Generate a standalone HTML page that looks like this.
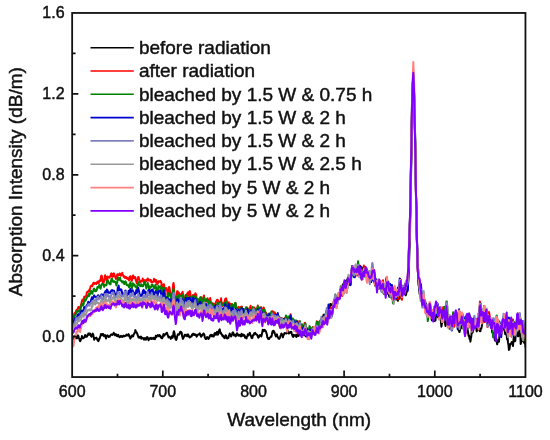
<!DOCTYPE html>
<html lang="en"><head><meta charset="utf-8"><title>Absorption spectrum</title>
<style>html,body{margin:0;padding:0;background:#fff}body{width:550px;height:440px;overflow:hidden}svg{display:block;filter:blur(0.45px)}text{font-family:"Liberation Sans",Arial,sans-serif;fill:#111111;stroke:#111111;stroke-width:0.45px}</style></head><body>
<svg width="550" height="440" viewBox="0 0 550 440">
<rect width="550" height="440" fill="#fff"/>
<defs><clipPath id="c"><rect x="72.15" y="12.95" width="453.30" height="364.11"/></clipPath></defs>
<g clip-path="url(#c)" fill="none" stroke-width="2" stroke-linejoin="round">
<path stroke="#000000" d="M72.2 336.5 L72.4 337.5 L72.9 339.3 L73.3 338.2 L73.8 336.7 L74.2 336.4 L74.7 335.8 L75.1 337.1 L75.6 336.7 L76.0 338.3 L76.5 337.2 L77.0 338.3 L77.4 336.2 L77.9 335.4 L78.3 335.8 L78.8 337.6 L79.2 338.5 L79.7 340.1 L80.1 341.3 L80.6 340.4 L81.0 338.8 L81.5 338.7 L81.9 336.0 L82.4 338.1 L82.8 338.3 L83.3 338.3 L83.8 337.4 L84.2 337.7 L84.7 336.0 L85.1 335.0 L85.6 335.9 L86.0 336.7 L86.5 335.9 L86.9 336.7 L87.4 335.5 L87.8 335.3 L88.3 333.5 L88.7 334.6 L89.2 333.5 L89.6 334.6 L90.1 333.6 L90.6 334.3 L91.0 335.9 L91.5 336.6 L91.9 335.8 L92.4 334.8 L92.8 333.6 L93.3 335.1 L93.7 337.4 L94.2 339.7 L94.6 338.0 L95.1 338.6 L95.5 338.1 L96.0 338.0 L96.4 337.6 L96.9 338.6 L97.4 340.0 L97.8 340.5 L98.3 341.2 L98.7 340.7 L99.2 338.6 L99.6 338.7 L100.1 336.9 L100.5 335.8 L101.0 334.0 L101.4 335.1 L101.9 335.3 L102.3 334.1 L102.8 334.6 L103.2 334.1 L103.7 335.8 L104.2 336.3 L104.6 335.4 L105.1 335.1 L105.5 335.7 L106.0 338.5 L106.4 336.9 L106.9 336.1 L107.3 335.4 L107.8 335.7 L108.2 336.1 L108.7 336.9 L109.1 336.3 L109.6 336.8 L110.0 336.0 L110.5 335.3 L111.0 334.5 L111.4 334.8 L111.9 334.4 L112.3 335.0 L112.8 334.3 L113.2 334.2 L113.7 332.8 L114.1 333.6 L114.6 334.6 L115.0 335.3 L115.5 334.4 L115.9 334.1 L116.4 335.3 L116.8 335.9 L117.3 335.3 L117.8 336.3 L118.2 334.8 L118.7 336.2 L119.1 336.2 L119.6 337.2 L120.0 336.8 L120.5 336.4 L120.9 335.8 L121.4 336.8 L121.8 336.2 L122.3 336.9 L122.7 336.6 L123.2 335.7 L123.6 335.6 L124.1 336.3 L124.6 336.0 L125.0 336.2 L125.5 335.5 L125.9 335.7 L126.4 334.6 L126.8 334.9 L127.3 335.1 L127.7 334.9 L128.2 335.7 L128.6 334.1 L129.1 335.1 L129.5 336.2 L130.0 337.6 L130.4 338.6 L130.9 337.4 L131.4 336.5 L131.8 335.5 L132.3 335.6 L132.7 336.5 L133.2 336.1 L133.6 334.8 L134.1 333.7 L134.5 333.4 L135.0 331.7 L135.4 330.1 L135.9 332.0 L136.3 332.0 L136.8 332.7 L137.2 333.6 L137.7 335.1 L138.2 336.5 L138.6 337.6 L139.1 337.6 L139.5 337.7 L140.0 336.8 L140.4 337.4 L140.9 336.5 L141.3 338.7 L141.8 338.1 L142.2 337.7 L142.7 338.0 L143.1 338.0 L143.6 339.4 L144.0 339.4 L144.5 339.5 L144.9 338.0 L145.4 339.1 L145.9 339.7 L146.3 338.7 L146.8 337.2 L147.2 337.1 L147.7 337.5 L148.1 339.2 L148.6 340.3 L149.0 338.8 L149.5 338.8 L149.9 338.1 L150.4 338.8 L150.8 337.8 L151.3 338.3 L151.7 339.0 L152.2 338.8 L152.7 338.0 L153.1 338.0 L153.6 337.8 L154.0 339.1 L154.5 338.6 L154.9 339.1 L155.4 337.7 L155.8 335.7 L156.3 337.3 L156.7 336.3 L157.2 335.9 L157.6 335.1 L158.1 335.4 L158.5 335.7 L159.0 336.3 L159.5 335.0 L159.9 336.0 L160.4 335.8 L160.8 337.6 L161.3 336.8 L161.7 338.3 L162.2 338.2 L162.6 337.4 L163.1 335.6 L163.5 334.1 L164.0 334.7 L164.4 335.6 L164.9 334.6 L165.3 334.1 L165.8 333.8 L166.3 333.3 L166.7 332.7 L167.2 333.4 L167.6 334.9 L168.1 336.1 L168.5 337.6 L169.0 336.6 L169.4 336.9 L169.9 337.1 L170.3 337.7 L170.8 338.9 L171.2 337.9 L171.7 336.3 L172.1 337.2 L172.6 337.7 L173.1 336.4 L173.5 332.6 L174.0 331.2 L174.4 332.7 L174.9 335.9 L175.3 338.7 L175.8 339.3 L176.2 339.9 L176.7 338.9 L177.1 336.5 L177.6 335.2 L178.0 334.2 L178.5 334.7 L178.9 334.6 L179.4 334.3 L179.9 332.5 L180.3 331.7 L180.8 332.8 L181.2 332.1 L181.7 332.8 L182.1 335.9 L182.6 337.7 L183.0 338.9 L183.5 337.7 L183.9 337.0 L184.4 335.2 L184.8 334.9 L185.3 335.8 L185.7 335.0 L186.2 334.8 L186.7 335.3 L187.1 336.3 L187.6 335.0 L188.0 334.4 L188.5 335.3 L188.9 336.5 L189.4 337.1 L189.8 337.5 L190.3 336.5 L190.7 336.5 L191.2 336.4 L191.6 336.5 L192.1 334.4 L192.5 335.2 L193.0 333.8 L193.5 334.7 L193.9 333.9 L194.4 335.0 L194.8 335.1 L195.3 334.5 L195.7 334.5 L196.2 335.6 L196.6 336.8 L197.1 336.0 L197.5 335.0 L198.0 334.8 L198.4 334.5 L198.9 334.4 L199.3 333.8 L199.8 333.4 L200.3 335.0 L200.7 336.0 L201.2 336.8 L201.6 335.2 L202.1 335.6 L202.5 334.5 L203.0 334.4 L203.4 333.5 L203.9 334.0 L204.3 334.4 L204.8 337.6 L205.2 337.8 L205.7 339.0 L206.1 339.0 L206.6 338.1 L207.1 337.0 L207.5 337.5 L208.0 337.5 L208.4 339.1 L208.9 338.2 L209.3 337.9 L209.8 336.1 L210.2 335.3 L210.7 335.8 L211.1 334.8 L211.6 336.2 L212.0 335.0 L212.5 335.5 L212.9 336.3 L213.4 336.6 L213.9 336.2 L214.3 333.9 L214.8 333.2 L215.2 333.0 L215.7 334.8 L216.1 334.7 L216.6 333.0 L217.0 331.7 L217.5 332.3 L217.9 334.7 L218.4 333.5 L218.8 331.7 L219.3 329.8 L219.7 329.3 L220.2 331.9 L220.7 333.4 L221.1 333.0 L221.6 334.5 L222.0 334.7 L222.5 336.1 L222.9 335.4 L223.4 336.3 L223.8 337.1 L224.3 337.9 L224.7 338.2 L225.2 336.4 L225.6 335.3 L226.1 335.8 L226.5 337.1 L227.0 338.5 L227.5 338.5 L227.9 338.0 L228.4 338.0 L228.8 335.9 L229.3 335.0 L229.7 333.4 L230.2 335.4 L230.6 335.7 L231.1 336.5 L231.5 335.6 L232.0 334.4 L232.4 332.9 L232.9 332.3 L233.3 332.9 L233.8 335.4 L234.3 335.2 L234.7 334.6 L235.2 334.9 L235.6 336.4 L236.1 335.6 L236.5 334.4 L237.0 333.2 L237.4 333.7 L237.9 334.5 L238.3 335.6 L238.8 335.7 L239.2 335.5 L239.7 334.8 L240.1 335.8 L240.6 336.3 L241.0 336.4 L241.5 333.7 L242.0 335.7 L242.4 334.4 L242.9 335.6 L243.3 334.6 L243.8 335.6 L244.2 335.0 L244.7 335.7 L245.1 337.8 L245.6 337.4 L246.0 337.3 L246.5 338.4 L246.9 336.8 L247.4 336.2 L247.8 334.2 L248.3 335.6 L248.8 334.4 L249.2 334.3 L249.7 332.7 L250.1 333.5 L250.6 335.4 L251.0 336.1 L251.5 337.7 L251.9 338.1 L252.4 337.8 L252.8 335.6 L253.3 334.9 L253.7 335.1 L254.2 333.3 L254.6 333.4 L255.1 332.8 L255.6 333.6 L256.0 334.3 L256.5 334.5 L256.9 334.7 L257.4 335.3 L257.8 336.3 L258.3 337.7 L258.7 337.1 L259.2 336.8 L259.6 335.4 L260.1 335.0 L260.5 335.2 L261.0 335.8 L261.4 336.4 L261.9 334.1 L262.4 331.5 L262.8 329.8 L263.3 330.3 L263.7 331.2 L264.2 331.0 L264.6 329.9 L265.1 330.3 L265.5 330.8 L266.0 331.6 L266.4 333.2 L266.9 334.5 L267.3 337.3 L267.8 337.9 L268.2 339.0 L268.7 338.8 L269.2 338.9 L269.6 337.7 L270.1 337.5 L270.5 337.1 L271.0 336.3 L271.4 336.7 L271.9 334.7 L272.3 332.1 L272.8 330.9 L273.2 331.0 L273.7 330.7 L274.1 332.7 L274.6 332.4 L275.0 334.0 L275.5 335.6 L276.0 336.5 L276.4 335.1 L276.9 334.3 L277.3 336.0 L277.8 337.0 L278.2 337.7 L278.7 338.7 L279.1 338.9 L279.6 338.3 L280.0 337.3 L280.5 335.7 L280.9 335.3 L281.4 333.5 L281.8 334.9 L282.3 334.4 L282.8 337.3 L283.2 336.2 L283.7 335.0 L284.1 334.1 L284.6 333.0 L285.0 333.3 L285.5 333.3 L285.9 333.3 L286.4 333.4 L286.8 332.7 L287.3 332.4 L287.7 330.9 L288.2 331.5 L288.6 333.6 L289.1 333.3 L289.6 332.9 L290.0 332.6 L290.5 331.8 L290.9 332.2 L291.4 331.9 L291.8 333.7 L292.3 335.5 L292.7 336.3 L293.2 337.0 L293.6 334.8 L294.1 335.7 L294.5 335.8 L295.0 335.2 L295.4 335.1 L295.9 336.0 L296.4 336.9 L296.8 336.5 L297.3 333.2 L297.7 334.9 L298.2 333.6 L298.6 335.9 L299.1 334.3 L299.5 332.3 L300.0 333.0 L300.4 332.0 L300.9 332.1 L301.3 330.4 L301.8 330.5 L302.2 331.7 L302.7 332.2 L303.2 332.0 L303.6 333.1 L304.1 334.5 L304.5 335.1 L305.0 335.3 L305.4 335.9 L305.9 335.7 L306.3 336.4 L306.8 335.6 L307.2 334.4 L307.7 332.5 L308.1 334.5 L308.6 334.8 L309.0 335.0 L309.5 334.5 L310.0 334.9 L310.4 333.5 L310.9 331.3 L311.3 330.9 L311.8 331.1 L312.2 332.7 L312.7 331.5 L313.1 330.9 L313.6 331.9 L314.0 331.3 L314.5 330.6 L314.9 328.9 L315.4 329.7 L315.8 329.8 L316.3 329.6 L316.8 327.6 L317.2 327.7 L317.7 326.4 L318.1 328.1 L318.6 326.7 L319.0 325.7 L319.5 325.7 L319.9 326.0 L320.4 325.0 L320.8 323.8 L321.3 322.1 L321.7 321.0 L322.2 320.6 L322.6 318.4 L323.1 316.6 L323.6 314.8 L324.0 314.7 L324.5 315.3 L324.9 315.3 L325.4 316.1 L325.8 313.6 L326.3 312.4 L326.7 312.3 L327.2 311.7 L327.6 311.6 L328.1 309.8 L328.5 307.9 L329.0 308.4 L329.4 309.1 L329.9 307.3 L330.3 303.9 L330.8 304.1 L331.3 304.4 L331.7 304.5 L332.2 305.5 L332.6 305.7 L333.1 304.7 L333.5 304.4 L334.0 302.8 L334.4 300.8 L334.9 300.5 L335.3 300.0 L335.8 297.8 L336.2 296.8 L336.7 296.7 L337.1 296.5 L337.6 296.0 L338.1 294.9 L338.5 294.0 L339.0 293.4 L339.4 293.6 L339.9 291.6 L340.3 290.6 L340.8 289.4 L341.2 289.4 L341.7 287.9 L342.1 286.3 L342.6 285.0 L343.0 285.0 L343.5 283.6 L343.9 283.6 L344.4 282.8 L344.9 282.2 L345.3 281.7 L345.8 280.7 L346.2 281.1 L346.7 280.4 L347.1 279.9 L347.6 279.1 L348.0 277.2 L348.5 278.4 L348.9 278.9 L349.4 279.8 L349.8 278.6 L350.3 277.1 L350.7 276.6 L351.2 275.2 L351.7 274.6 L352.1 274.4 L352.6 275.0 L353.0 273.9 L353.5 272.8 L353.9 270.6 L354.4 269.5 L354.8 269.1 L355.3 271.1 L355.7 271.4 L356.2 270.8 L356.6 271.2 L357.1 269.8 L357.5 268.4 L358.0 269.2 L358.5 268.9 L358.9 268.8 L359.4 270.9 L359.8 271.1 L360.3 271.4 L360.7 269.5 L361.2 268.4 L361.6 267.1 L362.1 269.6 L362.5 270.0 L363.0 270.2 L363.4 269.7 L363.9 267.0 L364.3 267.3 L364.8 267.6 L365.3 268.9 L365.7 268.5 L366.2 270.6 L366.6 272.8 L367.1 273.5 L367.5 274.1 L368.0 275.7 L368.4 275.2 L368.9 277.1 L369.3 275.3 L369.8 274.4 L370.2 274.7 L370.7 274.5 L371.1 276.5 L371.6 276.8 L372.1 278.3 L372.5 277.2 L373.0 277.3 L373.4 279.2 L373.9 280.3 L374.3 281.7 L374.8 283.7 L375.2 285.7 L375.7 285.1 L376.1 285.2 L376.6 284.0 L377.0 283.6 L377.5 285.7 L377.9 286.0 L378.4 288.6 L378.9 286.5 L379.3 284.3 L379.8 283.2 L380.2 283.0 L380.7 285.0 L381.1 285.9 L381.6 288.8 L382.0 288.2 L382.5 289.1 L382.9 290.1 L383.4 289.4 L383.8 292.7 L384.3 292.8 L384.7 291.7 L385.2 290.6 L385.7 291.8 L386.1 292.9 L386.6 292.8 L387.0 293.1 L387.5 293.4 L387.9 292.6 L388.4 294.4 L388.8 294.1 L389.3 296.7 L389.7 295.6 L390.2 294.1 L390.6 295.4 L391.1 295.2 L391.5 297.1 L392.0 297.0 L392.5 298.9 L392.9 297.6 L393.4 300.5 L393.8 298.0 L394.3 298.4 L394.7 298.7 L395.2 298.6 L395.6 298.7 L396.1 299.2 L396.5 298.0 L397.0 296.4 L397.4 299.8 L397.9 300.8 L398.3 297.4 L398.8 297.1 L399.3 297.5 L399.7 298.7 L400.2 295.8 L400.6 294.8 L401.1 290.8 L401.5 294.7 L402.0 293.7 L402.4 294.1 L402.9 290.9 L403.3 293.2 L403.8 292.6 L404.2 290.1 L404.7 290.6 L405.1 291.4 L405.6 295.3 L406.1 294.7 L406.5 291.2 L407.0 287.3 L407.4 284.5 L407.9 284.8 L408.3 281.2 L408.8 272.0 L409.2 258.2 L409.7 243.9 L410.1 225.3 L410.6 201.5 L411.0 178.6 L411.5 151.3 L411.9 122.4 L412.4 101.0 L412.9 82.7 L413.3 76.7 L413.8 82.7 L414.2 95.7 L414.7 113.0 L415.1 138.1 L415.6 167.8 L416.0 195.1 L416.5 217.3 L416.9 238.0 L417.4 254.4 L417.8 266.4 L418.3 276.0 L418.7 284.6 L419.2 288.7 L419.6 293.9 L420.1 293.6 L420.6 295.5 L421.0 293.7 L421.5 294.7 L421.9 296.4 L422.4 299.6 L422.8 301.7 L423.3 300.2 L423.7 301.0 L424.2 305.1 L424.6 307.2 L425.1 309.6 L425.5 310.5 L426.0 312.7 L426.4 312.7 L426.9 313.5 L427.4 311.3 L427.8 314.8 L428.3 314.6 L428.7 315.0 L429.2 314.0 L429.6 312.5 L430.1 312.1 L430.5 311.4 L431.0 316.9 L431.4 318.1 L431.9 320.4 L432.3 318.6 L432.8 318.7 L433.2 318.7 L433.7 319.9 L434.2 317.0 L434.6 321.0 L435.1 320.0 L435.5 320.5 L436.0 314.4 L436.4 314.9 L436.9 312.9 L437.3 316.1 L437.8 316.8 L438.2 317.5 L438.7 316.2 L439.1 316.7 L439.6 314.4 L440.0 314.9 L440.5 316.3 L441.0 322.5 L441.4 326.7 L441.9 323.6 L442.3 322.3 L442.8 320.1 L443.2 321.5 L443.7 321.1 L444.1 319.5 L444.6 321.1 L445.0 322.5 L445.5 325.9 L445.9 323.3 L446.4 322.1 L446.8 319.8 L447.3 318.2 L447.8 321.3 L448.2 320.2 L448.7 323.1 L449.1 321.8 L449.6 324.3 L450.0 324.0 L450.5 321.9 L450.9 321.7 L451.4 321.4 L451.8 321.8 L452.3 318.3 L452.7 315.7 L453.2 317.3 L453.6 318.0 L454.1 318.9 L454.6 318.9 L455.0 315.3 L455.5 317.8 L455.9 318.2 L456.4 321.8 L456.8 318.9 L457.3 324.2 L457.7 324.7 L458.2 326.7 L458.6 330.1 L459.1 331.1 L459.5 332.0 L460.0 330.2 L460.4 328.8 L460.9 325.9 L461.4 325.2 L461.8 327.8 L462.3 323.7 L462.7 324.8 L463.2 326.1 L463.6 329.2 L464.1 329.2 L464.5 324.6 L465.0 323.6 L465.4 324.6 L465.9 330.5 L466.3 330.6 L466.8 332.3 L467.2 330.0 L467.7 330.0 L468.2 332.9 L468.6 335.9 L469.1 335.6 L469.5 338.8 L470.0 337.2 L470.4 341.7 L470.9 338.4 L471.3 336.3 L471.8 330.4 L472.2 332.7 L472.7 332.5 L473.1 329.0 L473.6 323.3 L474.0 325.0 L474.5 324.0 L475.0 325.8 L475.4 325.9 L475.9 326.9 L476.3 329.4 L476.8 331.4 L477.2 327.4 L477.7 326.7 L478.1 327.3 L478.6 330.0 L479.0 328.9 L479.5 330.1 L479.9 331.2 L480.4 331.0 L480.8 328.4 L481.3 328.6 L481.8 326.2 L482.2 323.5 L482.7 320.5 L483.1 317.6 L483.6 321.3 L484.0 320.6 L484.5 319.5 L484.9 318.8 L485.4 318.4 L485.8 318.4 L486.3 315.1 L486.7 317.5 L487.2 314.5 L487.6 319.5 L488.1 316.3 L488.6 319.8 L489.0 315.7 L489.5 319.6 L489.9 318.2 L490.4 322.7 L490.8 322.9 L491.3 324.0 L491.7 326.8 L492.2 332.3 L492.6 331.3 L493.1 335.7 L493.5 334.4 L494.0 336.4 L494.4 336.8 L494.9 340.4 L495.4 338.0 L495.8 334.8 L496.3 338.4 L496.7 341.3 L497.2 344.3 L497.6 341.9 L498.1 340.4 L498.5 340.7 L499.0 341.8 L499.4 335.7 L499.9 333.7 L500.3 332.6 L500.8 332.9 L501.2 333.9 L501.7 332.7 L502.2 330.8 L502.6 329.8 L503.1 326.5 L503.5 325.8 L504.0 323.0 L504.4 326.8 L504.9 332.2 L505.3 334.2 L505.8 327.8 L506.2 327.1 L506.7 335.0 L507.1 339.5 L507.6 337.8 L508.0 342.4 L508.5 345.1 L508.9 349.9 L509.4 349.4 L509.9 346.2 L510.3 343.8 L510.8 343.9 L511.2 343.8 L511.7 342.0 L512.1 343.1 L512.6 344.5 L513.0 346.1 L513.5 339.6 L513.9 336.0 L514.4 336.7 L514.8 341.2 L515.3 341.0 L515.7 335.3 L516.2 334.0 L516.7 331.8 L517.1 332.6 L517.6 333.9 L518.0 336.3 L518.5 336.0 L518.9 334.5 L519.4 328.9 L519.8 329.4 L520.3 334.2 L520.7 344.0 L521.2 342.2 L521.6 338.2 L522.1 339.9 L522.5 341.1 L523.0 339.8 L523.5 336.5 L523.9 341.9 L524.4 343.1 L524.8 341.7 L525.3 342.8 L525.5 347.4"/>
<path stroke="#ff0000" d="M72.2 320.3 L72.4 319.6 L72.9 320.7 L73.3 319.7 L73.8 317.6 L74.2 313.9 L74.7 313.1 L75.1 313.5 L75.6 312.1 L76.0 311.2 L76.5 310.1 L77.0 311.4 L77.4 309.7 L77.9 308.3 L78.3 307.1 L78.8 307.0 L79.2 308.1 L79.7 307.9 L80.1 308.3 L80.6 306.3 L81.0 305.2 L81.5 303.1 L81.9 301.0 L82.4 299.5 L82.8 301.0 L83.3 301.1 L83.8 300.6 L84.2 296.7 L84.7 297.5 L85.1 296.5 L85.6 296.8 L86.0 296.0 L86.5 294.3 L86.9 292.3 L87.4 292.1 L87.8 291.6 L88.3 291.8 L88.7 290.4 L89.2 291.4 L89.6 289.2 L90.1 289.1 L90.6 286.4 L91.0 286.0 L91.5 285.5 L91.9 285.6 L92.4 286.2 L92.8 284.4 L93.3 283.1 L93.7 282.6 L94.2 283.4 L94.6 284.0 L95.1 283.4 L95.5 283.0 L96.0 283.5 L96.4 284.0 L96.9 282.7 L97.4 281.6 L97.8 282.7 L98.3 282.5 L98.7 283.2 L99.2 280.8 L99.6 281.5 L100.1 280.1 L100.5 280.9 L101.0 276.6 L101.4 275.6 L101.9 276.0 L102.3 279.8 L102.8 282.8 L103.2 283.7 L103.7 282.7 L104.2 279.8 L104.6 277.7 L105.1 275.2 L105.5 276.8 L106.0 276.5 L106.4 280.4 L106.9 278.3 L107.3 279.0 L107.8 276.5 L108.2 277.4 L108.7 277.5 L109.1 277.0 L109.6 277.7 L110.0 276.2 L110.5 276.2 L111.0 273.7 L111.4 273.4 L111.9 274.7 L112.3 276.9 L112.8 276.6 L113.2 274.0 L113.7 273.3 L114.1 273.7 L114.6 276.3 L115.0 275.9 L115.5 277.8 L115.9 279.0 L116.4 277.8 L116.8 276.6 L117.3 274.3 L117.8 274.5 L118.2 275.1 L118.7 274.8 L119.1 275.1 L119.6 273.5 L120.0 273.7 L120.5 275.0 L120.9 275.7 L121.4 274.2 L121.8 274.6 L122.3 272.7 L122.7 274.9 L123.2 275.5 L123.6 276.6 L124.1 277.2 L124.6 276.4 L125.0 278.0 L125.5 277.0 L125.9 277.3 L126.4 277.1 L126.8 278.5 L127.3 278.7 L127.7 278.0 L128.2 279.1 L128.6 278.3 L129.1 280.4 L129.5 277.0 L130.0 278.5 L130.4 276.3 L130.9 278.0 L131.4 280.0 L131.8 280.9 L132.3 278.8 L132.7 275.9 L133.2 275.4 L133.6 277.7 L134.1 278.3 L134.5 277.3 L135.0 277.0 L135.4 277.4 L135.9 280.7 L136.3 281.6 L136.8 283.2 L137.2 280.7 L137.7 279.6 L138.2 276.9 L138.6 277.0 L139.1 278.8 L139.5 280.0 L140.0 282.5 L140.4 282.2 L140.9 281.8 L141.3 281.3 L141.8 280.7 L142.2 281.0 L142.7 278.6 L143.1 279.4 L143.6 281.4 L144.0 283.4 L144.5 281.8 L144.9 280.1 L145.4 280.7 L145.9 280.6 L146.3 281.2 L146.8 279.4 L147.2 280.0 L147.7 278.5 L148.1 280.3 L148.6 279.2 L149.0 280.7 L149.5 280.2 L149.9 280.4 L150.4 280.6 L150.8 279.8 L151.3 282.3 L151.7 282.1 L152.2 282.5 L152.7 282.1 L153.1 281.7 L153.6 280.7 L154.0 278.7 L154.5 279.7 L154.9 281.4 L155.4 281.8 L155.8 280.0 L156.3 280.4 L156.7 283.1 L157.2 284.5 L157.6 284.0 L158.1 282.1 L158.5 281.2 L159.0 281.6 L159.5 281.9 L159.9 281.8 L160.4 280.8 L160.8 282.3 L161.3 282.1 L161.7 287.1 L162.2 286.6 L162.6 288.8 L163.1 285.7 L163.5 284.2 L164.0 284.2 L164.4 286.7 L164.9 290.5 L165.3 289.4 L165.8 290.3 L166.3 287.9 L166.7 288.9 L167.2 290.0 L167.6 294.7 L168.1 294.9 L168.5 291.1 L169.0 286.9 L169.4 287.1 L169.9 290.4 L170.3 293.7 L170.8 295.2 L171.2 294.5 L171.7 295.9 L172.1 294.2 L172.6 291.6 L173.1 284.8 L173.5 282.9 L174.0 286.2 L174.4 294.4 L174.9 300.9 L175.3 302.5 L175.8 301.9 L176.2 298.7 L176.7 295.2 L177.1 291.2 L177.6 291.3 L178.0 292.0 L178.5 294.6 L178.9 292.8 L179.4 296.0 L179.9 296.5 L180.3 297.8 L180.8 295.2 L181.2 293.8 L181.7 293.8 L182.1 293.1 L182.6 291.8 L183.0 294.5 L183.5 297.1 L183.9 299.7 L184.4 299.2 L184.8 298.1 L185.3 297.1 L185.7 295.2 L186.2 295.8 L186.7 296.9 L187.1 293.5 L187.6 294.0 L188.0 292.2 L188.5 295.8 L188.9 293.4 L189.4 293.3 L189.8 291.0 L190.3 292.9 L190.7 296.5 L191.2 298.8 L191.6 300.0 L192.1 297.3 L192.5 297.3 L193.0 294.9 L193.5 295.2 L193.9 297.7 L194.4 297.1 L194.8 296.5 L195.3 293.2 L195.7 294.1 L196.2 294.4 L196.6 299.0 L197.1 302.2 L197.5 304.2 L198.0 301.8 L198.4 301.3 L198.9 300.8 L199.3 301.0 L199.8 299.2 L200.3 297.2 L200.7 297.3 L201.2 297.5 L201.6 300.5 L202.1 300.9 L202.5 304.5 L203.0 301.3 L203.4 297.4 L203.9 295.5 L204.3 297.3 L204.8 300.1 L205.2 299.4 L205.7 300.8 L206.1 301.7 L206.6 300.9 L207.1 299.2 L207.5 298.2 L208.0 299.4 L208.4 301.5 L208.9 303.1 L209.3 300.2 L209.8 299.1 L210.2 298.0 L210.7 301.5 L211.1 304.5 L211.6 305.7 L212.0 305.3 L212.5 303.2 L212.9 303.3 L213.4 304.7 L213.9 304.1 L214.3 304.6 L214.8 305.3 L215.2 305.1 L215.7 302.6 L216.1 301.7 L216.6 300.6 L217.0 299.8 L217.5 299.8 L217.9 300.1 L218.4 302.9 L218.8 302.1 L219.3 304.0 L219.7 303.7 L220.2 301.3 L220.7 300.9 L221.1 298.3 L221.6 303.0 L222.0 302.8 L222.5 306.0 L222.9 305.2 L223.4 305.4 L223.8 305.3 L224.3 302.8 L224.7 300.9 L225.2 298.9 L225.6 298.8 L226.1 298.4 L226.5 300.0 L227.0 303.6 L227.5 308.4 L227.9 308.3 L228.4 305.2 L228.8 302.3 L229.3 304.7 L229.7 305.7 L230.2 305.6 L230.6 303.8 L231.1 304.2 L231.5 305.9 L232.0 304.3 L232.4 304.6 L232.9 304.7 L233.3 306.4 L233.8 306.6 L234.3 307.2 L234.7 304.3 L235.2 304.5 L235.6 303.6 L236.1 308.7 L236.5 307.2 L237.0 310.4 L237.4 309.3 L237.9 310.9 L238.3 307.1 L238.8 306.9 L239.2 309.1 L239.7 311.1 L240.1 310.7 L240.6 310.1 L241.0 306.7 L241.5 308.1 L242.0 306.6 L242.4 313.2 L242.9 313.1 L243.3 315.3 L243.8 311.6 L244.2 311.7 L244.7 311.1 L245.1 310.6 L245.6 309.9 L246.0 307.7 L246.5 308.4 L246.9 307.5 L247.4 307.7 L247.8 308.7 L248.3 309.6 L248.8 312.4 L249.2 313.0 L249.7 309.7 L250.1 307.6 L250.6 305.7 L251.0 308.1 L251.5 311.2 L251.9 311.2 L252.4 312.8 L252.8 310.4 L253.3 311.6 L253.7 310.0 L254.2 307.4 L254.6 310.9 L255.1 312.6 L255.6 313.3 L256.0 310.0 L256.5 312.4 L256.9 312.1 L257.4 309.2 L257.8 305.5 L258.3 309.9 L258.7 311.8 L259.2 312.4 L259.6 307.5 L260.1 310.7 L260.5 307.4 L261.0 311.2 L261.4 307.3 L261.9 312.9 L262.4 312.8 L262.8 313.3 L263.3 311.2 L263.7 307.4 L264.2 310.0 L264.6 312.3 L265.1 314.0 L265.5 313.2 L266.0 312.6 L266.4 314.6 L266.9 315.0 L267.3 314.3 L267.8 315.6 L268.2 316.7 L268.7 316.9 L269.2 313.9 L269.6 315.0 L270.1 314.9 L270.5 317.6 L271.0 314.9 L271.4 313.4 L271.9 313.4 L272.3 311.3 L272.8 313.6 L273.2 311.4 L273.7 313.9 L274.1 312.6 L274.6 312.3 L275.0 312.9 L275.5 313.7 L276.0 315.1 L276.4 315.8 L276.9 316.5 L277.3 318.9 L277.8 318.9 L278.2 319.5 L278.7 317.4 L279.1 318.1 L279.6 317.9 L280.0 319.1 L280.5 320.7 L280.9 319.9 L281.4 317.9 L281.8 317.9 L282.3 320.3 L282.8 325.4 L283.2 325.1 L283.7 324.6 L284.1 322.1 L284.6 320.7 L285.0 317.7 L285.5 317.8 L285.9 317.2 L286.4 319.9 L286.8 321.4 L287.3 323.1 L287.7 319.6 L288.2 319.3 L288.6 317.4 L289.1 320.2 L289.6 319.0 L290.0 318.4 L290.5 314.3 L290.9 316.0 L291.4 319.5 L291.8 327.6 L292.3 327.8 L292.7 325.1 L293.2 322.8 L293.6 322.0 L294.1 323.8 L294.5 323.9 L295.0 321.7 L295.4 325.4 L295.9 322.9 L296.4 327.6 L296.8 322.2 L297.3 323.3 L297.7 321.0 L298.2 323.9 L298.6 326.4 L299.1 325.9 L299.5 323.8 L300.0 322.9 L300.4 326.0 L300.9 329.6 L301.3 329.0 L301.8 326.0 L302.2 326.0 L302.7 328.3 L303.2 332.9 L303.6 330.3 L304.1 328.7 L304.5 323.1 L305.0 322.8 L305.4 325.1 L305.9 328.7 L306.3 330.4 L306.8 330.8 L307.2 330.9 L307.7 330.5 L308.1 330.1 L308.6 329.7 L309.0 332.9 L309.5 331.7 L310.0 331.4 L310.4 330.0 L310.9 331.7 L311.3 332.5 L311.8 330.9 L312.2 328.5 L312.7 327.0 L313.1 329.8 L313.6 330.4 L314.0 332.0 L314.5 330.7 L314.9 331.7 L315.4 332.9 L315.8 329.1 L316.3 326.4 L316.8 321.3 L317.2 323.1 L317.7 324.0 L318.1 328.0 L318.6 327.9 L319.0 325.7 L319.5 321.7 L319.9 321.0 L320.4 320.3 L320.8 320.2 L321.3 319.3 L321.7 320.5 L322.2 318.7 L322.6 319.6 L323.1 317.4 L323.6 318.0 L324.0 316.1 L324.5 316.6 L324.9 318.7 L325.4 316.8 L325.8 318.0 L326.3 315.0 L326.7 312.0 L327.2 312.4 L327.6 312.8 L328.1 313.7 L328.5 307.3 L329.0 306.0 L329.4 308.7 L329.9 309.6 L330.3 309.8 L330.8 307.5 L331.3 307.7 L331.7 309.3 L332.2 311.3 L332.6 311.8 L333.1 305.7 L333.5 302.1 L334.0 300.3 L334.4 301.2 L334.9 297.9 L335.3 298.3 L335.8 299.3 L336.2 305.5 L336.7 306.1 L337.1 305.0 L337.6 299.9 L338.1 299.1 L338.5 296.6 L339.0 297.5 L339.4 296.6 L339.9 297.2 L340.3 295.6 L340.8 290.4 L341.2 292.5 L341.7 292.4 L342.1 295.9 L342.6 294.5 L343.0 294.1 L343.5 291.5 L343.9 288.4 L344.4 286.6 L344.9 286.0 L345.3 284.6 L345.8 282.7 L346.2 284.9 L346.7 289.9 L347.1 288.9 L347.6 283.9 L348.0 277.9 L348.5 278.7 L348.9 281.0 L349.4 278.3 L349.8 281.7 L350.3 279.0 L350.7 280.8 L351.2 274.1 L351.7 272.4 L352.1 268.9 L352.6 268.4 L353.0 268.2 L353.5 269.1 L353.9 270.9 L354.4 276.1 L354.8 275.2 L355.3 272.1 L355.7 268.2 L356.2 271.1 L356.6 275.4 L357.1 273.6 L357.5 272.1 L358.0 266.0 L358.5 269.8 L358.9 272.1 L359.4 274.6 L359.8 271.9 L360.3 265.7 L360.7 269.8 L361.2 272.6 L361.6 275.4 L362.1 271.8 L362.5 273.7 L363.0 271.8 L363.4 272.8 L363.9 265.4 L364.3 270.9 L364.8 271.9 L365.3 274.7 L365.7 270.4 L366.2 268.7 L366.6 268.3 L367.1 270.3 L367.5 273.5 L368.0 274.3 L368.4 275.9 L368.9 277.3 L369.3 278.3 L369.8 282.8 L370.2 278.4 L370.7 279.6 L371.1 272.8 L371.6 271.7 L372.1 267.7 L372.5 266.7 L373.0 271.9 L373.4 276.0 L373.9 280.7 L374.3 277.6 L374.8 278.3 L375.2 280.2 L375.7 281.8 L376.1 281.4 L376.6 282.4 L377.0 285.5 L377.5 285.8 L377.9 286.3 L378.4 284.8 L378.9 283.3 L379.3 281.5 L379.8 284.0 L380.2 283.5 L380.7 286.7 L381.1 283.9 L381.6 288.3 L382.0 282.3 L382.5 281.1 L382.9 280.2 L383.4 283.4 L383.8 288.1 L384.3 287.9 L384.7 290.7 L385.2 288.8 L385.7 288.1 L386.1 278.5 L386.6 277.2 L387.0 279.0 L387.5 284.8 L387.9 283.8 L388.4 285.1 L388.8 290.7 L389.3 291.4 L389.7 292.2 L390.2 288.5 L390.6 295.9 L391.1 290.5 L391.5 291.5 L392.0 286.5 L392.5 293.2 L392.9 299.3 L393.4 298.6 L393.8 298.7 L394.3 292.9 L394.7 294.7 L395.2 296.5 L395.6 299.4 L396.1 297.9 L396.5 296.2 L397.0 292.7 L397.4 296.0 L397.9 294.7 L398.3 298.9 L398.8 294.9 L399.3 288.3 L399.7 283.9 L400.2 279.9 L400.6 282.0 L401.1 287.9 L401.5 297.0 L402.0 299.8 L402.4 294.7 L402.9 289.2 L403.3 289.6 L403.8 287.5 L404.2 292.5 L404.7 293.9 L405.1 293.5 L405.6 290.5 L406.1 285.8 L406.5 285.6 L407.0 285.6 L407.4 284.2 L407.9 278.4 L408.3 264.8 L408.8 254.4 L409.2 243.0 L409.7 232.3 L410.1 217.0 L410.6 194.7 L411.0 168.5 L411.5 139.2 L411.9 114.7 L412.4 94.9 L412.9 81.7 L413.3 75.7 L413.8 86.4 L414.2 103.8 L414.7 121.1 L415.1 139.1 L415.6 165.9 L416.0 196.3 L416.5 221.1 L416.9 241.1 L417.4 258.5 L417.8 269.7 L418.3 277.6 L418.7 281.2 L419.2 283.8 L419.6 290.1 L420.1 292.1 L420.6 298.2 L421.0 292.0 L421.5 297.9 L421.9 296.4 L422.4 300.6 L422.8 298.2 L423.3 299.0 L423.7 300.1 L424.2 301.9 L424.6 301.4 L425.1 301.1 L425.5 303.3 L426.0 308.4 L426.4 310.0 L426.9 312.7 L427.4 311.3 L427.8 315.3 L428.3 311.8 L428.7 309.8 L429.2 309.1 L429.6 304.0 L430.1 307.2 L430.5 309.3 L431.0 313.3 L431.4 312.5 L431.9 311.8 L432.3 315.7 L432.8 316.6 L433.2 316.8 L433.7 313.4 L434.2 314.9 L434.6 312.5 L435.1 315.9 L435.5 312.0 L436.0 310.0 L436.4 303.8 L436.9 306.0 L437.3 306.3 L437.8 308.9 L438.2 312.6 L438.7 314.5 L439.1 313.2 L439.6 308.5 L440.0 309.2 L440.5 309.8 L441.0 310.3 L441.4 314.7 L441.9 321.2 L442.3 320.2 L442.8 311.2 L443.2 307.1 L443.7 307.4 L444.1 312.4 L444.6 313.0 L445.0 316.5 L445.5 314.5 L445.9 314.1 L446.4 305.3 L446.8 310.6 L447.3 315.8 L447.8 327.0 L448.2 324.7 L448.7 325.8 L449.1 321.4 L449.6 320.8 L450.0 317.8 L450.5 319.0 L450.9 317.5 L451.4 321.5 L451.8 322.4 L452.3 324.0 L452.7 318.3 L453.2 317.3 L453.6 323.7 L454.1 326.8 L454.6 325.8 L455.0 317.2 L455.5 315.9 L455.9 320.0 L456.4 319.5 L456.8 317.7 L457.3 317.0 L457.7 319.9 L458.2 319.0 L458.6 318.2 L459.1 315.9 L459.5 320.3 L460.0 319.4 L460.4 321.2 L460.9 320.6 L461.4 318.3 L461.8 317.7 L462.3 314.9 L462.7 319.0 L463.2 318.9 L463.6 319.4 L464.1 321.5 L464.5 330.0 L465.0 332.9 L465.4 327.5 L465.9 324.2 L466.3 317.3 L466.8 322.0 L467.2 318.8 L467.7 325.9 L468.2 321.6 L468.6 317.8 L469.1 318.3 L469.5 320.3 L470.0 327.4 L470.4 317.2 L470.9 321.1 L471.3 319.4 L471.8 329.6 L472.2 326.1 L472.7 329.4 L473.1 325.3 L473.6 326.9 L474.0 321.4 L474.5 325.1 L475.0 327.1 L475.4 325.5 L475.9 323.1 L476.3 324.7 L476.8 326.4 L477.2 326.8 L477.7 323.9 L478.1 321.4 L478.6 324.5 L479.0 316.2 L479.5 313.9 L479.9 301.6 L480.4 303.5 L480.8 306.4 L481.3 313.9 L481.8 317.0 L482.2 313.4 L482.7 314.0 L483.1 312.8 L483.6 315.3 L484.0 313.7 L484.5 314.9 L484.9 322.1 L485.4 318.3 L485.8 315.5 L486.3 310.0 L486.7 315.4 L487.2 316.7 L487.6 327.1 L488.1 325.1 L488.6 320.4 L489.0 311.9 L489.5 314.6 L489.9 317.5 L490.4 320.6 L490.8 323.2 L491.3 326.3 L491.7 320.8 L492.2 322.2 L492.6 321.9 L493.1 326.4 L493.5 326.6 L494.0 322.8 L494.4 320.7 L494.9 321.9 L495.4 334.0 L495.8 331.6 L496.3 323.4 L496.7 320.5 L497.2 327.5 L497.6 332.7 L498.1 329.5 L498.5 327.8 L499.0 328.4 L499.4 329.7 L499.9 327.2 L500.3 326.1 L500.8 325.4 L501.2 329.4 L501.7 327.3 L502.2 322.3 L502.6 319.4 L503.1 322.5 L503.5 326.3 L504.0 324.0 L504.4 319.2 L504.9 320.9 L505.3 320.9 L505.8 325.4 L506.2 319.1 L506.7 316.6 L507.1 323.2 L507.6 332.5 L508.0 331.2 L508.5 324.9 L508.9 320.7 L509.4 325.2 L509.9 323.8 L510.3 324.7 L510.8 329.7 L511.2 326.6 L511.7 330.1 L512.1 322.2 L512.6 328.3 L513.0 319.5 L513.5 326.5 L513.9 325.4 L514.4 330.1 L514.8 328.8 L515.3 327.1 L515.7 327.9 L516.2 327.6 L516.7 322.4 L517.1 318.8 L517.6 319.1 L518.0 321.0 L518.5 326.1 L518.9 324.3 L519.4 325.2 L519.8 320.5 L520.3 320.7 L520.7 325.0 L521.2 328.5 L521.6 332.5 L522.1 334.3 L522.5 333.9 L523.0 333.8 L523.5 331.4 L523.9 334.9 L524.4 336.3 L524.8 340.4 L525.3 340.9 L525.5 332.2"/>
<path stroke="#008000" d="M72.2 318.3 L72.4 318.4 L72.9 319.0 L73.3 320.2 L73.8 319.6 L74.2 317.8 L74.7 316.0 L75.1 315.0 L75.6 314.6 L76.0 313.4 L76.5 311.9 L77.0 312.1 L77.4 311.4 L77.9 310.4 L78.3 310.5 L78.8 310.8 L79.2 311.8 L79.7 310.4 L80.1 310.1 L80.6 308.8 L81.0 306.9 L81.5 305.0 L81.9 303.9 L82.4 303.8 L82.8 305.5 L83.3 305.2 L83.8 303.5 L84.2 299.6 L84.7 299.4 L85.1 299.9 L85.6 300.7 L86.0 299.4 L86.5 298.2 L86.9 297.8 L87.4 297.2 L87.8 296.2 L88.3 295.0 L88.7 294.1 L89.2 296.1 L89.6 294.6 L90.1 294.0 L90.6 291.4 L91.0 290.9 L91.5 292.9 L91.9 292.6 L92.4 293.8 L92.8 291.7 L93.3 291.0 L93.7 288.8 L94.2 288.5 L94.6 290.8 L95.1 291.1 L95.5 291.3 L96.0 290.1 L96.4 290.9 L96.9 289.6 L97.4 286.9 L97.8 287.7 L98.3 286.9 L98.7 287.5 L99.2 285.1 L99.6 286.3 L100.1 287.5 L100.5 288.8 L101.0 286.8 L101.4 284.8 L101.9 284.2 L102.3 284.0 L102.8 284.1 L103.2 284.7 L103.7 284.9 L104.2 286.9 L104.6 285.0 L105.1 285.3 L105.5 284.8 L106.0 284.7 L106.4 285.3 L106.9 281.8 L107.3 281.1 L107.8 280.1 L108.2 282.6 L108.7 282.8 L109.1 282.5 L109.6 284.2 L110.0 284.1 L110.5 284.3 L111.0 281.1 L111.4 279.4 L111.9 278.6 L112.3 279.7 L112.8 281.5 L113.2 282.0 L113.7 281.4 L114.1 281.2 L114.6 281.9 L115.0 281.6 L115.5 282.2 L115.9 283.6 L116.4 285.5 L116.8 284.1 L117.3 281.9 L117.8 277.3 L118.2 278.1 L118.7 278.2 L119.1 279.7 L119.6 278.6 L120.0 277.7 L120.5 280.7 L120.9 280.3 L121.4 281.0 L121.8 280.9 L122.3 282.5 L122.7 282.6 L123.2 281.4 L123.6 282.7 L124.1 283.9 L124.6 284.0 L125.0 281.8 L125.5 281.4 L125.9 282.1 L126.4 283.8 L126.8 285.1 L127.3 285.3 L127.7 285.0 L128.2 285.7 L128.6 285.9 L129.1 287.5 L129.5 284.1 L130.0 285.2 L130.4 282.2 L130.9 285.3 L131.4 287.1 L131.8 288.8 L132.3 286.3 L132.7 283.3 L133.2 283.8 L133.6 285.1 L134.1 285.5 L134.5 284.5 L135.0 286.0 L135.4 286.7 L135.9 286.6 L136.3 287.6 L136.8 288.0 L137.2 286.6 L137.7 283.7 L138.2 282.1 L138.6 284.6 L139.1 284.9 L139.5 284.5 L140.0 285.9 L140.4 285.3 L140.9 286.2 L141.3 284.2 L141.8 285.1 L142.2 286.0 L142.7 286.2 L143.1 286.3 L143.6 284.7 L144.0 284.2 L144.5 282.1 L144.9 282.0 L145.4 284.1 L145.9 285.6 L146.3 288.5 L146.8 286.5 L147.2 286.6 L147.7 282.8 L148.1 285.2 L148.6 285.3 L149.0 288.6 L149.5 286.7 L149.9 288.3 L150.4 287.4 L150.8 287.3 L151.3 286.7 L151.7 284.7 L152.2 285.6 L152.7 284.9 L153.1 286.6 L153.6 286.3 L154.0 288.4 L154.5 287.9 L154.9 288.4 L155.4 284.8 L155.8 286.9 L156.3 288.4 L156.7 293.4 L157.2 294.8 L157.6 292.0 L158.1 288.0 L158.5 286.0 L159.0 287.4 L159.5 287.6 L159.9 286.9 L160.4 286.4 L160.8 288.5 L161.3 289.7 L161.7 293.0 L162.2 290.5 L162.6 290.2 L163.1 287.7 L163.5 288.6 L164.0 287.7 L164.4 288.9 L164.9 292.8 L165.3 294.2 L165.8 298.1 L166.3 296.6 L166.7 297.6 L167.2 297.3 L167.6 298.5 L168.1 296.8 L168.5 295.1 L169.0 293.0 L169.4 293.6 L169.9 293.7 L170.3 295.4 L170.8 297.8 L171.2 298.4 L171.7 300.8 L172.1 299.5 L172.6 295.7 L173.1 290.3 L173.5 288.7 L174.0 292.2 L174.4 297.6 L174.9 302.3 L175.3 304.1 L175.8 306.7 L176.2 304.6 L176.7 302.4 L177.1 296.3 L177.6 298.0 L178.0 297.2 L178.5 297.9 L178.9 295.1 L179.4 297.2 L179.9 297.7 L180.3 296.8 L180.8 296.1 L181.2 297.9 L181.7 298.2 L182.1 295.5 L182.6 294.7 L183.0 297.4 L183.5 298.9 L183.9 300.3 L184.4 303.0 L184.8 304.2 L185.3 301.0 L185.7 295.0 L186.2 296.1 L186.7 299.6 L187.1 299.5 L187.6 299.5 L188.0 297.8 L188.5 299.4 L188.9 297.4 L189.4 297.5 L189.8 296.7 L190.3 298.0 L190.7 300.4 L191.2 299.4 L191.6 300.1 L192.1 296.2 L192.5 300.4 L193.0 299.3 L193.5 303.0 L193.9 302.6 L194.4 301.1 L194.8 297.3 L195.3 295.8 L195.7 296.8 L196.2 298.0 L196.6 300.8 L197.1 300.9 L197.5 301.7 L198.0 298.9 L198.4 301.5 L198.9 302.4 L199.3 303.2 L199.8 300.0 L200.3 298.6 L200.7 297.3 L201.2 297.7 L201.6 301.3 L202.1 302.8 L202.5 306.7 L203.0 301.8 L203.4 300.6 L203.9 297.5 L204.3 299.0 L204.8 300.3 L205.2 301.2 L205.7 301.4 L206.1 299.9 L206.6 299.4 L207.1 298.8 L207.5 300.5 L208.0 300.8 L208.4 303.6 L208.9 304.0 L209.3 303.1 L209.8 301.9 L210.2 301.6 L210.7 303.2 L211.1 303.7 L211.6 303.4 L212.0 303.9 L212.5 305.5 L212.9 307.7 L213.4 308.2 L213.9 306.1 L214.3 305.8 L214.8 305.6 L215.2 307.1 L215.7 305.3 L216.1 306.8 L216.6 306.8 L217.0 306.1 L217.5 302.8 L217.9 304.2 L218.4 303.7 L218.8 303.5 L219.3 302.8 L219.7 303.8 L220.2 303.4 L220.7 302.4 L221.1 302.6 L221.6 305.8 L222.0 304.2 L222.5 305.0 L222.9 304.9 L223.4 304.5 L223.8 305.5 L224.3 302.9 L224.7 304.2 L225.2 302.5 L225.6 303.4 L226.1 302.7 L226.5 301.6 L227.0 304.4 L227.5 308.6 L227.9 310.3 L228.4 308.9 L228.8 306.1 L229.3 309.2 L229.7 311.3 L230.2 312.5 L230.6 309.3 L231.1 306.5 L231.5 304.8 L232.0 304.0 L232.4 304.8 L232.9 306.5 L233.3 306.8 L233.8 307.7 L234.3 307.3 L234.7 305.0 L235.2 303.0 L235.6 302.8 L236.1 308.1 L236.5 308.4 L237.0 312.6 L237.4 313.2 L237.9 314.9 L238.3 310.2 L238.8 309.3 L239.2 310.0 L239.7 311.1 L240.1 311.9 L240.6 310.5 L241.0 309.1 L241.5 307.1 L242.0 308.3 L242.4 311.1 L242.9 313.5 L243.3 313.6 L243.8 313.3 L244.2 310.9 L244.7 310.5 L245.1 309.6 L245.6 308.2 L246.0 307.3 L246.5 307.7 L246.9 308.5 L247.4 308.7 L247.8 309.4 L248.3 310.7 L248.8 314.1 L249.2 316.2 L249.7 314.5 L250.1 311.9 L250.6 310.1 L251.0 311.3 L251.5 313.2 L251.9 311.3 L252.4 310.4 L252.8 307.0 L253.3 310.0 L253.7 310.3 L254.2 310.9 L254.6 309.8 L255.1 311.9 L255.6 312.0 L256.0 308.5 L256.5 308.8 L256.9 308.1 L257.4 310.8 L257.8 306.3 L258.3 309.0 L258.7 308.0 L259.2 311.3 L259.6 308.1 L260.1 308.9 L260.5 307.8 L261.0 310.3 L261.4 309.8 L261.9 311.5 L262.4 311.1 L262.8 310.4 L263.3 310.7 L263.7 309.7 L264.2 310.9 L264.6 309.5 L265.1 312.1 L265.5 313.3 L266.0 314.5 L266.4 315.0 L266.9 317.3 L267.3 316.8 L267.8 317.4 L268.2 316.6 L268.7 318.0 L269.2 316.0 L269.6 317.1 L270.1 316.7 L270.5 315.3 L271.0 312.9 L271.4 311.5 L271.9 315.6 L272.3 313.5 L272.8 317.8 L273.2 314.5 L273.7 317.1 L274.1 316.0 L274.6 316.9 L275.0 317.3 L275.5 317.4 L276.0 317.6 L276.4 319.8 L276.9 320.4 L277.3 321.3 L277.8 318.1 L278.2 317.7 L278.7 316.5 L279.1 319.1 L279.6 317.2 L280.0 319.7 L280.5 319.3 L280.9 322.4 L281.4 319.3 L281.8 321.0 L282.3 321.7 L282.8 324.6 L283.2 323.6 L283.7 319.9 L284.1 318.9 L284.6 320.5 L285.0 321.1 L285.5 320.2 L285.9 315.5 L286.4 316.0 L286.8 318.7 L287.3 324.1 L287.7 323.3 L288.2 321.7 L288.6 316.6 L289.1 318.7 L289.6 319.3 L290.0 320.4 L290.5 319.1 L290.9 320.8 L291.4 321.6 L291.8 321.3 L292.3 321.6 L292.7 318.5 L293.2 319.1 L293.6 319.5 L294.1 326.7 L294.5 326.8 L295.0 323.4 L295.4 320.6 L295.9 320.4 L296.4 323.2 L296.8 322.9 L297.3 324.1 L297.7 324.0 L298.2 326.0 L298.6 330.2 L299.1 327.0 L299.5 323.2 L300.0 321.1 L300.4 325.3 L300.9 329.9 L301.3 328.6 L301.8 327.8 L302.2 324.3 L302.7 325.5 L303.2 327.9 L303.6 330.5 L304.1 333.2 L304.5 330.4 L305.0 326.4 L305.4 323.6 L305.9 326.5 L306.3 330.0 L306.8 333.3 L307.2 332.9 L307.7 332.9 L308.1 330.6 L308.6 329.5 L309.0 329.2 L309.5 326.1 L310.0 326.8 L310.4 327.7 L310.9 333.0 L311.3 334.6 L311.8 334.2 L312.2 330.5 L312.7 327.4 L313.1 329.6 L313.6 330.0 L314.0 330.9 L314.5 326.9 L314.9 327.0 L315.4 330.6 L315.8 329.8 L316.3 327.8 L316.8 322.1 L317.2 323.6 L317.7 321.9 L318.1 323.3 L318.6 322.3 L319.0 327.0 L319.5 325.8 L319.9 328.1 L320.4 324.4 L320.8 322.7 L321.3 320.8 L321.7 319.3 L322.2 319.9 L322.6 321.3 L323.1 321.3 L323.6 321.5 L324.0 317.0 L324.5 316.1 L324.9 315.7 L325.4 314.3 L325.8 314.0 L326.3 311.1 L326.7 313.2 L327.2 317.9 L327.6 318.3 L328.1 315.5 L328.5 309.6 L329.0 307.8 L329.4 313.7 L329.9 314.1 L330.3 317.2 L330.8 313.4 L331.3 312.9 L331.7 312.7 L332.2 313.2 L332.6 312.2 L333.1 307.2 L333.5 303.5 L334.0 305.1 L334.4 301.7 L334.9 297.8 L335.3 294.4 L335.8 296.7 L336.2 301.2 L336.7 302.3 L337.1 301.2 L337.6 297.2 L338.1 295.4 L338.5 294.7 L339.0 297.0 L339.4 295.3 L339.9 293.8 L340.3 290.3 L340.8 286.2 L341.2 289.1 L341.7 289.9 L342.1 290.3 L342.6 290.1 L343.0 293.1 L343.5 292.3 L343.9 288.6 L344.4 284.0 L344.9 287.6 L345.3 289.4 L345.8 290.2 L346.2 289.4 L346.7 291.0 L347.1 289.6 L347.6 286.4 L348.0 282.2 L348.5 280.5 L348.9 280.9 L349.4 277.3 L349.8 280.9 L350.3 282.3 L350.7 284.9 L351.2 278.6 L351.7 271.4 L352.1 267.2 L352.6 268.1 L353.0 270.9 L353.5 273.9 L353.9 272.8 L354.4 274.9 L354.8 271.8 L355.3 268.0 L355.7 267.8 L356.2 269.8 L356.6 274.8 L357.1 271.9 L357.5 270.6 L358.0 261.3 L358.5 263.9 L358.9 265.4 L359.4 275.0 L359.8 271.5 L360.3 271.8 L360.7 273.6 L361.2 277.5 L361.6 278.1 L362.1 273.5 L362.5 273.6 L363.0 271.7 L363.4 272.8 L363.9 272.9 L364.3 276.8 L364.8 274.6 L365.3 273.3 L365.7 268.4 L366.2 272.1 L366.6 275.1 L367.1 276.8 L367.5 279.2 L368.0 276.0 L368.4 274.6 L368.9 271.2 L369.3 273.2 L369.8 277.0 L370.2 274.1 L370.7 272.3 L371.1 274.4 L371.6 276.8 L372.1 274.4 L372.5 266.6 L373.0 269.6 L373.4 272.9 L373.9 276.3 L374.3 272.4 L374.8 275.1 L375.2 277.8 L375.7 281.1 L376.1 280.3 L376.6 282.6 L377.0 287.4 L377.5 286.3 L377.9 288.1 L378.4 285.7 L378.9 289.1 L379.3 286.9 L379.8 287.5 L380.2 286.9 L380.7 287.2 L381.1 285.5 L381.6 287.4 L382.0 286.6 L382.5 286.3 L382.9 288.8 L383.4 293.1 L383.8 293.9 L384.3 287.6 L384.7 285.9 L385.2 289.1 L385.7 294.4 L386.1 289.5 L386.6 285.2 L387.0 284.5 L387.5 288.6 L387.9 290.2 L388.4 291.6 L388.8 291.9 L389.3 291.3 L389.7 290.5 L390.2 292.1 L390.6 297.4 L391.1 292.7 L391.5 291.4 L392.0 289.3 L392.5 296.0 L392.9 303.2 L393.4 302.1 L393.8 298.7 L394.3 293.5 L394.7 294.6 L395.2 294.3 L395.6 296.3 L396.1 295.9 L396.5 296.5 L397.0 292.5 L397.4 291.3 L397.9 289.7 L398.3 294.2 L398.8 292.3 L399.3 292.2 L399.7 286.6 L400.2 286.1 L400.6 284.6 L401.1 290.2 L401.5 292.3 L402.0 295.5 L402.4 290.5 L402.9 289.1 L403.3 290.0 L403.8 286.0 L404.2 290.2 L404.7 286.6 L405.1 289.4 L405.6 283.0 L406.1 281.2 L406.5 282.2 L407.0 284.9 L407.4 288.5 L407.9 282.5 L408.3 271.6 L408.8 251.8 L409.2 240.9 L409.7 226.7 L410.1 215.6 L410.6 190.3 L411.0 167.6 L411.5 140.9 L411.9 117.5 L412.4 94.3 L412.9 82.8 L413.3 75.7 L413.8 85.5 L414.2 94.8 L414.7 113.2 L415.1 134.6 L415.6 163.5 L416.0 192.4 L416.5 216.5 L416.9 240.4 L417.4 258.1 L417.8 268.3 L418.3 269.1 L418.7 278.7 L419.2 283.0 L419.6 289.4 L420.1 290.3 L420.6 296.2 L421.0 291.5 L421.5 292.6 L421.9 295.3 L422.4 301.9 L422.8 298.2 L423.3 294.1 L423.7 293.0 L424.2 300.1 L424.6 303.4 L425.1 309.1 L425.5 307.1 L426.0 306.4 L426.4 304.2 L426.9 309.3 L427.4 315.9 L427.8 321.1 L428.3 317.5 L428.7 311.5 L429.2 307.4 L429.6 304.9 L430.1 304.4 L430.5 309.6 L431.0 312.1 L431.4 316.8 L431.9 317.2 L432.3 313.8 L432.8 317.2 L433.2 318.3 L433.7 319.7 L434.2 315.0 L434.6 307.6 L435.1 309.9 L435.5 308.7 L436.0 307.0 L436.4 304.9 L436.9 305.0 L437.3 309.9 L437.8 312.6 L438.2 315.2 L438.7 313.6 L439.1 313.7 L439.6 312.6 L440.0 315.0 L440.5 314.0 L441.0 313.7 L441.4 315.1 L441.9 320.9 L442.3 321.0 L442.8 319.5 L443.2 317.5 L443.7 314.0 L444.1 312.8 L444.6 306.7 L445.0 311.8 L445.5 310.3 L445.9 310.4 L446.4 301.5 L446.8 301.4 L447.3 306.6 L447.8 316.0 L448.2 316.8 L448.7 324.5 L449.1 327.0 L449.6 328.9 L450.0 321.3 L450.5 321.1 L450.9 320.2 L451.4 321.6 L451.8 322.6 L452.3 322.0 L452.7 316.4 L453.2 312.2 L453.6 319.8 L454.1 321.8 L454.6 321.0 L455.0 315.0 L455.5 317.0 L455.9 321.7 L456.4 319.2 L456.8 319.4 L457.3 317.1 L457.7 321.5 L458.2 320.2 L458.6 320.0 L459.1 315.3 L459.5 319.2 L460.0 312.2 L460.4 318.6 L460.9 318.5 L461.4 318.6 L461.8 314.0 L462.3 314.0 L462.7 322.6 L463.2 324.4 L463.6 319.1 L464.1 318.3 L464.5 324.5 L465.0 328.8 L465.4 327.5 L465.9 321.4 L466.3 324.4 L466.8 327.1 L467.2 328.5 L467.7 328.8 L468.2 325.6 L468.6 319.5 L469.1 313.6 L469.5 315.7 L470.0 322.1 L470.4 317.7 L470.9 321.4 L471.3 321.5 L471.8 324.9 L472.2 319.0 L472.7 324.1 L473.1 326.3 L473.6 329.7 L474.0 324.1 L474.5 323.3 L475.0 323.2 L475.4 323.3 L475.9 320.6 L476.3 319.8 L476.8 319.0 L477.2 320.2 L477.7 320.3 L478.1 319.7 L478.6 324.8 L479.0 319.6 L479.5 315.4 L479.9 309.2 L480.4 309.5 L480.8 311.4 L481.3 313.1 L481.8 314.8 L482.2 312.0 L482.7 315.2 L483.1 312.4 L483.6 317.9 L484.0 309.7 L484.5 313.5 L484.9 311.6 L485.4 320.4 L485.8 320.1 L486.3 318.8 L486.7 315.1 L487.2 317.6 L487.6 324.5 L488.1 325.8 L488.6 321.8 L489.0 322.0 L489.5 323.5 L489.9 324.8 L490.4 321.5 L490.8 321.4 L491.3 325.5 L491.7 319.9 L492.2 325.0 L492.6 324.4 L493.1 337.3 L493.5 332.5 L494.0 328.4 L494.4 323.7 L494.9 328.9 L495.4 335.1 L495.8 328.5 L496.3 321.1 L496.7 315.4 L497.2 320.0 L497.6 325.9 L498.1 328.5 L498.5 329.1 L499.0 326.7 L499.4 325.0 L499.9 327.0 L500.3 323.9 L500.8 325.9 L501.2 327.2 L501.7 329.9 L502.2 328.5 L502.6 322.5 L503.1 318.3 L503.5 316.8 L504.0 317.2 L504.4 314.6 L504.9 320.6 L505.3 319.5 L505.8 327.9 L506.2 319.2 L506.7 320.8 L507.1 324.3 L507.6 332.0 L508.0 334.2 L508.5 328.2 L508.9 325.8 L509.4 324.4 L509.9 325.8 L510.3 323.9 L510.8 322.2 L511.2 318.3 L511.7 330.0 L512.1 330.9 L512.6 334.5 L513.0 322.9 L513.5 322.6 L513.9 322.6 L514.4 322.1 L514.8 326.3 L515.3 328.3 L515.7 334.4 L516.2 330.9 L516.7 324.6 L517.1 316.1 L517.6 317.2 L518.0 316.9 L518.5 320.0 L518.9 323.2 L519.4 327.0 L519.8 327.6 L520.3 325.9 L520.7 327.7 L521.2 330.6 L521.6 331.7 L522.1 332.2 L522.5 328.7 L523.0 332.5 L523.5 331.2 L523.9 340.1 L524.4 331.5 L524.8 333.3 L525.3 331.2 L525.5 330.7"/>
<path stroke="#0000cc" d="M72.2 323.9 L72.4 323.9 L72.9 323.5 L73.3 323.6 L73.8 322.9 L74.2 320.4 L74.7 319.6 L75.1 318.2 L75.6 319.5 L76.0 318.1 L76.5 317.2 L77.0 317.2 L77.4 315.9 L77.9 314.7 L78.3 314.0 L78.8 314.9 L79.2 315.9 L79.7 314.3 L80.1 314.5 L80.6 312.4 L81.0 311.6 L81.5 310.6 L81.9 310.8 L82.4 310.9 L82.8 311.7 L83.3 310.5 L83.8 308.8 L84.2 307.0 L84.7 308.4 L85.1 308.0 L85.6 308.0 L86.0 306.8 L86.5 305.6 L86.9 305.9 L87.4 304.2 L87.8 303.9 L88.3 301.7 L88.7 302.4 L89.2 303.3 L89.6 303.1 L90.1 302.9 L90.6 302.0 L91.0 300.1 L91.5 299.0 L91.9 297.3 L92.4 298.5 L92.8 299.1 L93.3 297.7 L93.7 296.6 L94.2 295.4 L94.6 296.8 L95.1 296.8 L95.5 296.8 L96.0 297.0 L96.4 297.5 L96.9 297.0 L97.4 296.4 L97.8 295.4 L98.3 295.2 L98.7 296.4 L99.2 296.3 L99.6 297.9 L100.1 296.6 L100.5 297.9 L101.0 295.5 L101.4 294.4 L101.9 294.6 L102.3 295.0 L102.8 294.8 L103.2 294.9 L103.7 294.8 L104.2 297.0 L104.6 293.0 L105.1 292.0 L105.5 291.1 L106.0 291.8 L106.4 292.2 L106.9 289.6 L107.3 290.0 L107.8 291.2 L108.2 292.9 L108.7 292.6 L109.1 292.5 L109.6 292.9 L110.0 293.0 L110.5 291.8 L111.0 291.3 L111.4 290.5 L111.9 290.1 L112.3 290.0 L112.8 290.8 L113.2 291.6 L113.7 290.8 L114.1 290.8 L114.6 292.9 L115.0 294.2 L115.5 296.0 L115.9 294.6 L116.4 295.0 L116.8 293.4 L117.3 292.4 L117.8 287.5 L118.2 287.2 L118.7 285.6 L119.1 290.0 L119.6 288.6 L120.0 290.5 L120.5 289.7 L120.9 289.6 L121.4 289.5 L121.8 291.8 L122.3 294.1 L122.7 294.6 L123.2 294.4 L123.6 294.0 L124.1 295.0 L124.6 292.5 L125.0 291.4 L125.5 290.5 L125.9 292.7 L126.4 293.5 L126.8 294.8 L127.3 295.5 L127.7 294.5 L128.2 293.9 L128.6 291.0 L129.1 294.0 L129.5 290.3 L130.0 291.2 L130.4 289.0 L130.9 291.4 L131.4 292.6 L131.8 292.5 L132.3 290.7 L132.7 290.2 L133.2 291.7 L133.6 293.8 L134.1 296.1 L134.5 294.6 L135.0 296.5 L135.4 292.3 L135.9 292.6 L136.3 290.0 L136.8 292.9 L137.2 291.2 L137.7 290.7 L138.2 287.8 L138.6 289.2 L139.1 291.6 L139.5 293.4 L140.0 295.2 L140.4 294.7 L140.9 296.1 L141.3 294.9 L141.8 294.4 L142.2 295.0 L142.7 291.7 L143.1 290.6 L143.6 289.9 L144.0 293.1 L144.5 292.2 L144.9 291.4 L145.4 291.8 L145.9 294.8 L146.3 295.7 L146.8 296.1 L147.2 294.3 L147.7 291.5 L148.1 291.0 L148.6 289.8 L149.0 291.0 L149.5 289.9 L149.9 292.1 L150.4 294.1 L150.8 293.4 L151.3 293.0 L151.7 289.7 L152.2 289.7 L152.7 289.5 L153.1 292.4 L153.6 294.1 L154.0 294.7 L154.5 292.7 L154.9 292.7 L155.4 291.2 L155.8 292.5 L156.3 291.8 L156.7 293.6 L157.2 295.4 L157.6 295.6 L158.1 292.8 L158.5 291.6 L159.0 290.7 L159.5 291.5 L159.9 290.3 L160.4 290.7 L160.8 293.5 L161.3 293.6 L161.7 297.3 L162.2 296.6 L162.6 296.7 L163.1 294.1 L163.5 291.7 L164.0 290.4 L164.4 295.7 L164.9 300.1 L165.3 303.5 L165.8 300.3 L166.3 299.7 L166.7 297.9 L167.2 297.6 L167.6 300.9 L168.1 301.6 L168.5 301.1 L169.0 299.3 L169.4 299.2 L169.9 300.2 L170.3 300.4 L170.8 302.1 L171.2 299.3 L171.7 299.4 L172.1 299.6 L172.6 301.6 L173.1 296.3 L173.5 293.3 L174.0 294.1 L174.4 301.6 L174.9 306.1 L175.3 310.0 L175.8 312.0 L176.2 310.2 L176.7 306.6 L177.1 299.0 L177.6 299.7 L178.0 299.6 L178.5 302.8 L178.9 300.5 L179.4 300.0 L179.9 300.6 L180.3 299.3 L180.8 299.0 L181.2 298.8 L181.7 300.3 L182.1 299.5 L182.6 299.2 L183.0 301.1 L183.5 302.5 L183.9 303.3 L184.4 305.3 L184.8 306.0 L185.3 300.9 L185.7 297.9 L186.2 298.7 L186.7 302.9 L187.1 300.4 L187.6 298.4 L188.0 298.0 L188.5 298.9 L188.9 298.4 L189.4 297.9 L189.8 297.8 L190.3 299.0 L190.7 301.5 L191.2 301.9 L191.6 304.2 L192.1 300.6 L192.5 301.2 L193.0 298.0 L193.5 298.9 L193.9 301.8 L194.4 300.0 L194.8 300.4 L195.3 298.6 L195.7 299.6 L196.2 301.4 L196.6 303.3 L197.1 305.7 L197.5 305.5 L198.0 304.1 L198.4 305.8 L198.9 306.5 L199.3 305.1 L199.8 301.7 L200.3 302.0 L200.7 303.5 L201.2 304.7 L201.6 305.7 L202.1 306.8 L202.5 310.6 L203.0 307.1 L203.4 306.1 L203.9 303.5 L204.3 303.9 L204.8 304.6 L205.2 305.9 L205.7 306.1 L206.1 304.0 L206.6 305.0 L207.1 305.9 L207.5 306.0 L208.0 305.8 L208.4 307.3 L208.9 309.6 L209.3 305.9 L209.8 307.0 L210.2 307.9 L210.7 312.2 L211.1 310.6 L211.6 308.8 L212.0 307.8 L212.5 307.5 L212.9 306.9 L213.4 306.8 L213.9 307.1 L214.3 309.0 L214.8 307.6 L215.2 308.4 L215.7 305.3 L216.1 307.3 L216.6 306.1 L217.0 306.8 L217.5 306.0 L217.9 307.4 L218.4 308.4 L218.8 307.4 L219.3 307.1 L219.7 305.7 L220.2 305.8 L220.7 304.9 L221.1 307.3 L221.6 310.4 L222.0 311.2 L222.5 310.8 L222.9 309.4 L223.4 308.2 L223.8 310.3 L224.3 308.5 L224.7 308.1 L225.2 304.0 L225.6 306.2 L226.1 307.2 L226.5 309.9 L227.0 309.9 L227.5 312.1 L227.9 310.9 L228.4 306.4 L228.8 304.2 L229.3 306.8 L229.7 313.7 L230.2 315.1 L230.6 312.3 L231.1 310.1 L231.5 308.3 L232.0 309.3 L232.4 307.7 L232.9 309.0 L233.3 310.4 L233.8 312.4 L234.3 313.8 L234.7 312.5 L235.2 310.9 L235.6 309.1 L236.1 309.9 L236.5 310.6 L237.0 314.3 L237.4 317.2 L237.9 315.7 L238.3 311.9 L238.8 309.9 L239.2 313.5 L239.7 314.7 L240.1 316.7 L240.6 313.8 L241.0 310.9 L241.5 308.3 L242.0 311.3 L242.4 313.8 L242.9 312.2 L243.3 309.1 L243.8 312.0 L244.2 314.0 L244.7 316.2 L245.1 313.4 L245.6 312.2 L246.0 312.2 L246.5 311.0 L246.9 309.8 L247.4 309.0 L247.8 310.6 L248.3 313.1 L248.8 315.4 L249.2 316.3 L249.7 315.2 L250.1 312.1 L250.6 311.1 L251.0 311.1 L251.5 312.9 L251.9 313.8 L252.4 313.4 L252.8 312.6 L253.3 314.3 L253.7 313.3 L254.2 314.6 L254.6 312.3 L255.1 317.0 L255.6 316.8 L256.0 315.6 L256.5 314.8 L256.9 312.2 L257.4 313.7 L257.8 309.2 L258.3 313.1 L258.7 313.5 L259.2 318.4 L259.6 313.6 L260.1 312.1 L260.5 308.5 L261.0 311.6 L261.4 311.3 L261.9 316.5 L262.4 317.9 L262.8 318.0 L263.3 316.3 L263.7 312.9 L264.2 315.3 L264.6 313.7 L265.1 315.3 L265.5 314.6 L266.0 315.6 L266.4 316.6 L266.9 317.6 L267.3 316.1 L267.8 317.1 L268.2 316.5 L268.7 317.5 L269.2 313.6 L269.6 317.3 L270.1 318.1 L270.5 321.2 L271.0 319.9 L271.4 317.2 L271.9 319.0 L272.3 314.4 L272.8 318.4 L273.2 316.7 L273.7 319.0 L274.1 318.3 L274.6 318.2 L275.0 316.2 L275.5 314.5 L276.0 316.0 L276.4 318.6 L276.9 318.8 L277.3 316.5 L277.8 313.1 L278.2 316.0 L278.7 316.4 L279.1 320.6 L279.6 317.8 L280.0 320.1 L280.5 324.6 L280.9 326.2 L281.4 321.9 L281.8 320.4 L282.3 321.8 L282.8 325.8 L283.2 322.9 L283.7 318.9 L284.1 321.2 L284.6 321.4 L285.0 322.0 L285.5 321.6 L285.9 320.3 L286.4 321.4 L286.8 319.3 L287.3 321.7 L287.7 322.9 L288.2 323.4 L288.6 321.0 L289.1 321.1 L289.6 320.6 L290.0 318.1 L290.5 315.6 L290.9 318.2 L291.4 323.4 L291.8 327.4 L292.3 327.2 L292.7 324.7 L293.2 321.3 L293.6 320.3 L294.1 324.4 L294.5 327.0 L295.0 323.8 L295.4 325.1 L295.9 322.8 L296.4 325.9 L296.8 321.8 L297.3 325.1 L297.7 323.1 L298.2 324.1 L298.6 324.8 L299.1 324.1 L299.5 323.9 L300.0 325.0 L300.4 328.7 L300.9 331.7 L301.3 329.9 L301.8 329.8 L302.2 327.7 L302.7 328.7 L303.2 329.8 L303.6 329.5 L304.1 329.1 L304.5 325.7 L305.0 326.1 L305.4 327.2 L305.9 329.5 L306.3 328.3 L306.8 328.0 L307.2 329.9 L307.7 333.4 L308.1 334.1 L308.6 331.4 L309.0 331.8 L309.5 329.8 L310.0 331.1 L310.4 329.7 L310.9 333.0 L311.3 332.8 L311.8 334.5 L312.2 329.6 L312.7 329.5 L313.1 329.9 L313.6 330.0 L314.0 330.4 L314.5 328.5 L314.9 327.7 L315.4 330.9 L315.8 328.5 L316.3 328.7 L316.8 327.0 L317.2 326.5 L317.7 328.3 L318.1 326.4 L318.6 328.1 L319.0 327.5 L319.5 326.8 L319.9 327.5 L320.4 326.9 L320.8 326.5 L321.3 321.5 L321.7 323.0 L322.2 321.4 L322.6 325.4 L323.1 322.1 L323.6 320.2 L324.0 315.5 L324.5 315.4 L324.9 317.5 L325.4 318.7 L325.8 316.3 L326.3 312.8 L326.7 312.2 L327.2 318.2 L327.6 315.7 L328.1 311.8 L328.5 304.6 L329.0 306.6 L329.4 311.9 L329.9 312.9 L330.3 313.6 L330.8 314.0 L331.3 313.7 L331.7 316.5 L332.2 314.0 L332.6 313.4 L333.1 307.3 L333.5 304.7 L334.0 306.0 L334.4 304.2 L334.9 300.6 L335.3 299.4 L335.8 303.7 L336.2 306.7 L336.7 306.3 L337.1 301.8 L337.6 299.5 L338.1 295.7 L338.5 295.1 L339.0 297.6 L339.4 298.0 L339.9 297.7 L340.3 292.0 L340.8 289.8 L341.2 289.6 L341.7 289.8 L342.1 287.9 L342.6 287.7 L343.0 288.7 L343.5 288.3 L343.9 285.9 L344.4 282.1 L344.9 284.9 L345.3 285.5 L345.8 287.1 L346.2 282.4 L346.7 284.8 L347.1 284.2 L347.6 284.4 L348.0 279.6 L348.5 278.8 L348.9 280.6 L349.4 282.0 L349.8 284.8 L350.3 285.1 L350.7 282.0 L351.2 276.2 L351.7 269.1 L352.1 265.9 L352.6 265.9 L353.0 270.3 L353.5 274.4 L353.9 277.1 L354.4 276.6 L354.8 277.3 L355.3 271.8 L355.7 271.9 L356.2 269.5 L356.6 272.8 L357.1 270.0 L357.5 271.7 L358.0 269.6 L358.5 275.9 L358.9 274.8 L359.4 274.7 L359.8 269.0 L360.3 266.5 L360.7 272.1 L361.2 273.2 L361.6 276.0 L362.1 272.2 L362.5 275.2 L363.0 274.4 L363.4 272.3 L363.9 269.2 L364.3 270.3 L364.8 270.3 L365.3 271.8 L365.7 270.1 L366.2 273.6 L366.6 275.4 L367.1 276.5 L367.5 278.0 L368.0 277.2 L368.4 278.4 L368.9 278.8 L369.3 277.9 L369.8 276.6 L370.2 275.4 L370.7 276.7 L371.1 282.0 L371.6 280.9 L372.1 277.2 L372.5 273.4 L373.0 276.9 L373.4 279.9 L373.9 277.7 L374.3 275.9 L374.8 279.8 L375.2 279.7 L375.7 279.1 L376.1 279.3 L376.6 283.5 L377.0 286.1 L377.5 283.1 L377.9 282.6 L378.4 281.3 L378.9 281.0 L379.3 280.3 L379.8 282.7 L380.2 282.1 L380.7 285.2 L381.1 285.6 L381.6 291.2 L382.0 286.8 L382.5 285.6 L382.9 284.2 L383.4 287.7 L383.8 287.6 L384.3 287.7 L384.7 290.4 L385.2 291.0 L385.7 289.8 L386.1 281.2 L386.6 278.9 L387.0 279.1 L387.5 283.0 L387.9 282.5 L388.4 281.9 L388.8 284.3 L389.3 284.8 L389.7 283.9 L390.2 283.9 L390.6 290.2 L391.1 289.1 L391.5 288.5 L392.0 285.0 L392.5 289.1 L392.9 294.5 L393.4 294.1 L393.8 296.8 L394.3 293.1 L394.7 292.0 L395.2 291.6 L395.6 296.2 L396.1 297.9 L396.5 297.9 L397.0 293.6 L397.4 292.8 L397.9 287.7 L398.3 289.7 L398.8 285.9 L399.3 285.6 L399.7 278.5 L400.2 278.9 L400.6 279.7 L401.1 286.5 L401.5 291.3 L402.0 295.2 L402.4 293.8 L402.9 291.9 L403.3 294.4 L403.8 290.9 L404.2 293.2 L404.7 286.4 L405.1 287.1 L405.6 283.2 L406.1 284.4 L406.5 285.0 L407.0 287.9 L407.4 291.4 L407.9 289.9 L408.3 274.8 L408.8 259.2 L409.2 241.5 L409.7 228.7 L410.1 212.4 L410.6 187.1 L411.0 161.9 L411.5 131.4 L411.9 108.0 L412.4 88.7 L412.9 81.7 L413.3 75.7 L413.8 85.4 L414.2 100.6 L414.7 120.4 L415.1 140.0 L415.6 166.1 L416.0 194.1 L416.5 221.1 L416.9 241.6 L417.4 259.0 L417.8 269.9 L418.3 277.7 L418.7 284.8 L419.2 288.1 L419.6 290.4 L420.1 286.8 L420.6 289.6 L421.0 284.2 L421.5 292.3 L421.9 295.8 L422.4 306.4 L422.8 303.2 L423.3 305.2 L423.7 300.7 L424.2 303.5 L424.6 300.0 L425.1 301.8 L425.5 303.9 L426.0 307.8 L426.4 312.3 L426.9 315.6 L427.4 313.6 L427.8 311.0 L428.3 309.0 L428.7 310.3 L429.2 310.4 L429.6 305.4 L430.1 308.3 L430.5 311.9 L431.0 315.8 L431.4 314.7 L431.9 316.4 L432.3 315.0 L432.8 318.2 L433.2 316.3 L433.7 317.5 L434.2 314.1 L434.6 311.7 L435.1 312.4 L435.5 312.3 L436.0 315.4 L436.4 309.1 L436.9 307.4 L437.3 303.2 L437.8 304.3 L438.2 309.0 L438.7 309.7 L439.1 314.8 L439.6 309.0 L440.0 311.7 L440.5 307.2 L441.0 310.1 L441.4 310.2 L441.9 316.0 L442.3 320.2 L442.8 318.7 L443.2 319.5 L443.7 315.8 L444.1 320.4 L444.6 315.8 L445.0 318.8 L445.5 314.6 L445.9 316.2 L446.4 310.8 L446.8 313.6 L447.3 319.4 L447.8 325.9 L448.2 322.1 L448.7 320.6 L449.1 318.3 L449.6 320.0 L450.0 316.0 L450.5 316.6 L450.9 319.7 L451.4 327.3 L451.8 330.5 L452.3 328.6 L452.7 323.8 L453.2 321.6 L453.6 321.4 L454.1 321.8 L454.6 319.0 L455.0 317.5 L455.5 317.4 L455.9 318.3 L456.4 317.1 L456.8 316.1 L457.3 325.3 L457.7 329.2 L458.2 325.1 L458.6 312.9 L459.1 309.3 L459.5 319.1 L460.0 320.4 L460.4 325.8 L460.9 325.5 L461.4 324.6 L461.8 318.7 L462.3 314.2 L462.7 317.8 L463.2 322.9 L463.6 316.7 L464.1 321.3 L464.5 324.4 L465.0 335.3 L465.4 329.6 L465.9 324.4 L466.3 316.4 L466.8 318.1 L467.2 317.6 L467.7 324.6 L468.2 327.2 L468.6 322.3 L469.1 316.6 L469.5 315.3 L470.0 321.8 L470.4 320.8 L470.9 319.9 L471.3 319.7 L471.8 323.2 L472.2 323.1 L472.7 327.3 L473.1 328.6 L473.6 329.4 L474.0 325.2 L474.5 324.4 L475.0 324.5 L475.4 323.0 L475.9 319.7 L476.3 318.9 L476.8 319.4 L477.2 320.0 L477.7 320.1 L478.1 322.4 L478.6 323.5 L479.0 321.3 L479.5 310.8 L479.9 305.5 L480.4 303.6 L480.8 308.5 L481.3 314.5 L481.8 313.4 L482.2 310.9 L482.7 312.0 L483.1 311.6 L483.6 313.8 L484.0 306.0 L484.5 308.0 L484.9 314.9 L485.4 320.3 L485.8 319.6 L486.3 311.5 L486.7 309.7 L487.2 313.5 L487.6 320.4 L488.1 320.8 L488.6 318.2 L489.0 315.3 L489.5 320.7 L489.9 318.6 L490.4 320.2 L490.8 320.4 L491.3 328.3 L491.7 325.3 L492.2 324.0 L492.6 320.0 L493.1 327.4 L493.5 328.9 L494.0 330.8 L494.4 331.9 L494.9 334.2 L495.4 336.5 L495.8 330.1 L496.3 324.2 L496.7 322.3 L497.2 323.6 L497.6 325.0 L498.1 327.3 L498.5 325.7 L499.0 324.5 L499.4 321.5 L499.9 323.5 L500.3 332.2 L500.8 334.8 L501.2 337.2 L501.7 331.3 L502.2 330.0 L502.6 324.5 L503.1 321.0 L503.5 318.8 L504.0 320.6 L504.4 318.5 L504.9 324.1 L505.3 322.9 L505.8 329.8 L506.2 324.4 L506.7 324.5 L507.1 328.0 L507.6 334.5 L508.0 333.2 L508.5 328.1 L508.9 317.6 L509.4 320.2 L509.9 320.7 L510.3 324.3 L510.8 323.6 L511.2 320.4 L511.7 330.6 L512.1 330.8 L512.6 331.2 L513.0 323.1 L513.5 324.0 L513.9 327.3 L514.4 325.4 L514.8 328.7 L515.3 329.0 L515.7 331.1 L516.2 326.1 L516.7 323.5 L517.1 315.4 L517.6 319.8 L518.0 314.9 L518.5 320.9 L518.9 315.9 L519.4 318.5 L519.8 314.6 L520.3 318.6 L520.7 320.2 L521.2 325.8 L521.6 320.7 L522.1 326.9 L522.5 322.7 L523.0 328.5 L523.5 323.8 L523.9 333.5 L524.4 332.2 L524.8 336.7 L525.3 338.0 L525.5 333.3"/>
<path stroke="#8080c0" d="M72.2 326.7 L72.4 325.9 L72.9 326.7 L73.3 326.3 L73.8 325.3 L74.2 323.5 L74.7 322.8 L75.1 321.8 L75.6 320.8 L76.0 318.7 L76.5 317.9 L77.0 319.0 L77.4 320.3 L77.9 319.0 L78.3 318.0 L78.8 316.8 L79.2 318.0 L79.7 317.0 L80.1 317.1 L80.6 315.1 L81.0 315.1 L81.5 314.1 L81.9 314.3 L82.4 313.4 L82.8 313.6 L83.3 313.8 L83.8 313.2 L84.2 311.7 L84.7 311.4 L85.1 310.9 L85.6 310.0 L86.0 308.5 L86.5 306.7 L86.9 306.6 L87.4 306.0 L87.8 305.7 L88.3 304.2 L88.7 305.4 L89.2 305.8 L89.6 305.7 L90.1 303.8 L90.6 304.1 L91.0 302.7 L91.5 302.8 L91.9 301.5 L92.4 303.7 L92.8 303.5 L93.3 302.9 L93.7 300.4 L94.2 300.9 L94.6 300.2 L95.1 300.4 L95.5 299.3 L96.0 300.1 L96.4 301.2 L96.9 299.5 L97.4 297.2 L97.8 296.8 L98.3 296.6 L98.7 299.6 L99.2 298.3 L99.6 298.3 L100.1 298.5 L100.5 297.9 L101.0 296.8 L101.4 295.5 L101.9 298.2 L102.3 301.0 L102.8 299.3 L103.2 299.1 L103.7 298.1 L104.2 298.9 L104.6 295.5 L105.1 294.1 L105.5 295.0 L106.0 295.6 L106.4 297.0 L106.9 293.8 L107.3 294.8 L107.8 294.8 L108.2 296.5 L108.7 295.5 L109.1 296.2 L109.6 297.7 L110.0 298.9 L110.5 298.1 L111.0 295.6 L111.4 294.5 L111.9 293.2 L112.3 294.4 L112.8 293.1 L113.2 292.4 L113.7 293.5 L114.1 294.9 L114.6 297.6 L115.0 296.2 L115.5 297.4 L115.9 296.6 L116.4 297.1 L116.8 296.2 L117.3 294.5 L117.8 292.3 L118.2 292.1 L118.7 292.4 L119.1 293.6 L119.6 292.9 L120.0 294.5 L120.5 296.2 L120.9 295.4 L121.4 295.4 L121.8 296.1 L122.3 296.8 L122.7 295.8 L123.2 296.4 L123.6 295.2 L124.1 294.6 L124.6 292.0 L125.0 292.5 L125.5 291.7 L125.9 294.0 L126.4 293.3 L126.8 297.3 L127.3 297.2 L127.7 299.8 L128.2 299.2 L128.6 298.3 L129.1 299.5 L129.5 296.0 L130.0 296.5 L130.4 294.3 L130.9 294.6 L131.4 296.2 L131.8 294.7 L132.3 294.9 L132.7 292.5 L133.2 294.8 L133.6 296.0 L134.1 297.2 L134.5 296.5 L135.0 297.4 L135.4 296.0 L135.9 297.4 L136.3 298.0 L136.8 300.2 L137.2 298.6 L137.7 297.1 L138.2 294.1 L138.6 294.7 L139.1 295.7 L139.5 297.2 L140.0 299.0 L140.4 300.1 L140.9 300.2 L141.3 300.1 L141.8 299.8 L142.2 301.2 L142.7 297.2 L143.1 296.6 L143.6 295.5 L144.0 297.8 L144.5 295.6 L144.9 297.5 L145.4 297.2 L145.9 297.9 L146.3 296.1 L146.8 293.9 L147.2 293.3 L147.7 291.7 L148.1 294.9 L148.6 294.5 L149.0 295.6 L149.5 295.6 L149.9 295.6 L150.4 297.7 L150.8 295.1 L151.3 296.0 L151.7 292.7 L152.2 295.5 L152.7 296.2 L153.1 297.9 L153.6 297.6 L154.0 297.6 L154.5 297.4 L154.9 297.9 L155.4 295.9 L155.8 295.8 L156.3 294.7 L156.7 298.0 L157.2 299.1 L157.6 299.0 L158.1 296.7 L158.5 296.7 L159.0 298.1 L159.5 299.4 L159.9 297.4 L160.4 295.7 L160.8 295.4 L161.3 295.4 L161.7 298.6 L162.2 299.7 L162.6 302.5 L163.1 301.2 L163.5 299.3 L164.0 297.6 L164.4 300.9 L164.9 303.9 L165.3 304.1 L165.8 304.0 L166.3 300.5 L166.7 299.7 L167.2 299.2 L167.6 303.2 L168.1 304.9 L168.5 301.3 L169.0 301.3 L169.4 302.2 L169.9 305.0 L170.3 305.8 L170.8 303.5 L171.2 305.1 L171.7 305.3 L172.1 305.6 L172.6 301.6 L173.1 294.7 L173.5 292.9 L174.0 292.9 L174.4 301.2 L174.9 306.7 L175.3 311.5 L175.8 313.0 L176.2 310.3 L176.7 308.1 L177.1 302.9 L177.6 305.7 L178.0 305.7 L178.5 308.9 L178.9 304.9 L179.4 307.8 L179.9 304.2 L180.3 301.9 L180.8 297.6 L181.2 299.2 L181.7 302.7 L182.1 301.2 L182.6 301.0 L183.0 302.2 L183.5 306.3 L183.9 307.8 L184.4 310.4 L184.8 309.4 L185.3 308.3 L185.7 304.2 L186.2 304.6 L186.7 306.1 L187.1 304.7 L187.6 302.8 L188.0 301.3 L188.5 301.1 L188.9 304.4 L189.4 302.9 L189.8 303.0 L190.3 302.0 L190.7 306.1 L191.2 305.9 L191.6 306.6 L192.1 303.6 L192.5 306.2 L193.0 305.0 L193.5 305.4 L193.9 307.1 L194.4 304.4 L194.8 302.2 L195.3 300.2 L195.7 304.0 L196.2 305.9 L196.6 308.9 L197.1 308.5 L197.5 308.4 L198.0 307.1 L198.4 306.2 L198.9 308.6 L199.3 305.8 L199.8 305.1 L200.3 305.2 L200.7 306.6 L201.2 305.9 L201.6 305.2 L202.1 304.7 L202.5 310.1 L203.0 307.6 L203.4 306.4 L203.9 302.5 L204.3 305.1 L204.8 307.9 L205.2 307.8 L205.7 307.3 L206.1 307.6 L206.6 309.9 L207.1 307.4 L207.5 307.3 L208.0 306.0 L208.4 310.7 L208.9 312.4 L209.3 310.5 L209.8 308.6 L210.2 304.6 L210.7 304.9 L211.1 306.9 L211.6 307.5 L212.0 307.3 L212.5 306.8 L212.9 309.0 L213.4 309.8 L213.9 309.1 L214.3 309.9 L214.8 311.9 L215.2 312.9 L215.7 310.5 L216.1 310.2 L216.6 307.1 L217.0 306.1 L217.5 307.7 L217.9 310.4 L218.4 313.2 L218.8 312.1 L219.3 311.5 L219.7 307.4 L220.2 304.0 L220.7 305.4 L221.1 307.9 L221.6 314.4 L222.0 313.4 L222.5 314.1 L222.9 311.3 L223.4 310.9 L223.8 313.8 L224.3 311.2 L224.7 309.6 L225.2 307.3 L225.6 308.5 L226.1 308.6 L226.5 310.6 L227.0 311.8 L227.5 316.0 L227.9 315.0 L228.4 314.7 L228.8 311.1 L229.3 312.2 L229.7 313.2 L230.2 315.7 L230.6 312.4 L231.1 312.7 L231.5 312.4 L232.0 315.6 L232.4 316.5 L232.9 315.6 L233.3 310.7 L233.8 310.8 L234.3 312.0 L234.7 312.8 L235.2 310.3 L235.6 310.7 L236.1 315.4 L236.5 317.9 L237.0 320.2 L237.4 319.1 L237.9 315.4 L238.3 312.0 L238.8 311.7 L239.2 316.2 L239.7 316.3 L240.1 316.2 L240.6 314.5 L241.0 312.0 L241.5 310.3 L242.0 312.0 L242.4 318.0 L242.9 318.7 L243.3 316.8 L243.8 314.4 L244.2 314.6 L244.7 316.8 L245.1 315.3 L245.6 315.2 L246.0 312.7 L246.5 314.8 L246.9 314.8 L247.4 314.2 L247.8 314.7 L248.3 315.3 L248.8 318.4 L249.2 316.9 L249.7 315.2 L250.1 313.5 L250.6 312.1 L251.0 312.0 L251.5 314.0 L251.9 314.5 L252.4 314.9 L252.8 310.0 L253.3 309.9 L253.7 308.9 L254.2 310.8 L254.6 314.2 L255.1 316.7 L255.6 316.1 L256.0 312.2 L256.5 314.2 L256.9 314.4 L257.4 316.0 L257.8 311.3 L258.3 311.4 L258.7 311.9 L259.2 315.3 L259.6 311.5 L260.1 311.9 L260.5 309.4 L261.0 315.9 L261.4 313.4 L261.9 316.9 L262.4 315.8 L262.8 317.7 L263.3 317.6 L263.7 314.3 L264.2 313.7 L264.6 313.7 L265.1 316.1 L265.5 318.2 L266.0 316.5 L266.4 316.8 L266.9 317.0 L267.3 318.4 L267.8 319.6 L268.2 319.6 L268.7 318.9 L269.2 316.7 L269.6 316.9 L270.1 317.7 L270.5 320.8 L271.0 320.0 L271.4 317.0 L271.9 315.0 L272.3 313.4 L272.8 315.7 L273.2 315.3 L273.7 316.9 L274.1 317.6 L274.6 317.5 L275.0 315.7 L275.5 315.7 L276.0 316.9 L276.4 320.2 L276.9 320.3 L277.3 319.7 L277.8 316.2 L278.2 318.2 L278.7 319.9 L279.1 324.1 L279.6 322.6 L280.0 322.9 L280.5 323.4 L280.9 322.8 L281.4 320.6 L281.8 318.4 L282.3 320.0 L282.8 323.2 L283.2 322.9 L283.7 321.7 L284.1 322.0 L284.6 324.9 L285.0 323.1 L285.5 322.3 L285.9 319.0 L286.4 322.0 L286.8 323.2 L287.3 327.5 L287.7 324.9 L288.2 323.3 L288.6 319.8 L289.1 319.8 L289.6 320.6 L290.0 321.6 L290.5 322.0 L290.9 321.4 L291.4 324.3 L291.8 326.3 L292.3 326.7 L292.7 322.7 L293.2 320.5 L293.6 323.9 L294.1 327.0 L294.5 331.1 L295.0 325.8 L295.4 327.4 L295.9 325.6 L296.4 328.2 L296.8 323.1 L297.3 325.3 L297.7 326.2 L298.2 331.8 L298.6 331.7 L299.1 327.1 L299.5 323.7 L300.0 322.7 L300.4 328.9 L300.9 331.2 L301.3 331.5 L301.8 330.4 L302.2 331.2 L302.7 332.1 L303.2 332.2 L303.6 330.8 L304.1 329.7 L304.5 328.5 L305.0 327.8 L305.4 328.4 L305.9 330.4 L306.3 331.8 L306.8 333.5 L307.2 333.7 L307.7 333.8 L308.1 333.8 L308.6 332.7 L309.0 334.8 L309.5 333.6 L310.0 335.0 L310.4 334.1 L310.9 334.9 L311.3 334.6 L311.8 332.5 L312.2 329.8 L312.7 328.5 L313.1 331.7 L313.6 333.7 L314.0 334.4 L314.5 331.6 L314.9 331.9 L315.4 333.8 L315.8 331.5 L316.3 329.3 L316.8 325.4 L317.2 327.2 L317.7 328.1 L318.1 329.8 L318.6 328.2 L319.0 330.1 L319.5 328.1 L319.9 330.6 L320.4 324.9 L320.8 322.3 L321.3 316.8 L321.7 317.9 L322.2 319.3 L322.6 321.9 L323.1 321.3 L323.6 319.9 L324.0 318.8 L324.5 318.8 L324.9 319.7 L325.4 316.7 L325.8 315.0 L326.3 310.6 L326.7 308.1 L327.2 312.2 L327.6 314.1 L328.1 316.5 L328.5 310.8 L329.0 311.2 L329.4 313.5 L329.9 311.6 L330.3 309.7 L330.8 310.1 L331.3 311.4 L331.7 313.7 L332.2 311.3 L332.6 311.4 L333.1 306.6 L333.5 304.0 L334.0 304.2 L334.4 301.8 L334.9 296.5 L335.3 294.5 L335.8 299.5 L336.2 303.6 L336.7 304.4 L337.1 304.6 L337.6 303.3 L338.1 300.1 L338.5 294.2 L339.0 293.4 L339.4 292.8 L339.9 292.8 L340.3 293.9 L340.8 293.5 L341.2 293.1 L341.7 290.2 L342.1 290.3 L342.6 292.6 L343.0 294.1 L343.5 294.0 L343.9 293.3 L344.4 290.2 L344.9 290.1 L345.3 287.9 L345.8 291.3 L346.2 289.5 L346.7 292.9 L347.1 288.0 L347.6 284.7 L348.0 277.8 L348.5 277.6 L348.9 278.9 L349.4 277.0 L349.8 279.1 L350.3 277.5 L350.7 276.7 L351.2 273.1 L351.7 269.1 L352.1 269.2 L352.6 270.0 L353.0 273.4 L353.5 274.7 L353.9 275.3 L354.4 275.4 L354.8 272.8 L355.3 268.1 L355.7 268.0 L356.2 272.8 L356.6 274.9 L357.1 270.9 L357.5 267.6 L358.0 264.8 L358.5 270.8 L358.9 273.3 L359.4 276.8 L359.8 274.8 L360.3 273.0 L360.7 273.8 L361.2 276.1 L361.6 273.1 L362.1 275.1 L362.5 274.4 L363.0 277.4 L363.4 273.4 L363.9 272.2 L364.3 273.2 L364.8 272.9 L365.3 273.5 L365.7 270.4 L366.2 271.5 L366.6 273.0 L367.1 274.2 L367.5 276.1 L368.0 273.0 L368.4 271.3 L368.9 275.1 L369.3 277.3 L369.8 284.2 L370.2 278.7 L370.7 279.6 L371.1 272.1 L371.6 270.9 L372.1 263.4 L372.5 263.1 L373.0 266.5 L373.4 272.3 L373.9 273.0 L374.3 272.8 L374.8 275.7 L375.2 280.2 L375.7 282.0 L376.1 283.6 L376.6 287.3 L377.0 288.1 L377.5 286.0 L377.9 285.7 L378.4 284.7 L378.9 284.8 L379.3 281.2 L379.8 281.6 L380.2 281.0 L380.7 287.1 L381.1 289.2 L381.6 292.1 L382.0 289.0 L382.5 286.9 L382.9 288.1 L383.4 290.0 L383.8 290.2 L384.3 287.9 L384.7 290.6 L385.2 294.4 L385.7 295.7 L386.1 283.3 L386.6 282.2 L387.0 282.4 L387.5 290.7 L387.9 284.7 L388.4 286.1 L388.8 292.0 L389.3 293.6 L389.7 294.0 L390.2 289.0 L390.6 296.8 L391.1 294.7 L391.5 294.0 L392.0 289.1 L392.5 288.7 L392.9 295.9 L393.4 296.2 L393.8 299.4 L394.3 293.3 L394.7 293.1 L395.2 291.1 L395.6 295.4 L396.1 295.8 L396.5 296.6 L397.0 292.4 L397.4 294.8 L397.9 291.3 L398.3 295.5 L398.8 289.3 L399.3 290.1 L399.7 280.7 L400.2 283.5 L400.6 280.7 L401.1 288.2 L401.5 291.9 L402.0 297.0 L402.4 290.4 L402.9 285.6 L403.3 288.9 L403.8 291.3 L404.2 292.8 L404.7 288.3 L405.1 288.3 L405.6 288.1 L406.1 282.6 L406.5 282.7 L407.0 279.3 L407.4 284.7 L407.9 281.1 L408.3 271.5 L408.8 254.5 L409.2 242.1 L409.7 229.8 L410.1 215.6 L410.6 190.4 L411.0 166.5 L411.5 138.8 L411.9 116.5 L412.4 96.5 L412.9 84.8 L413.3 75.7 L413.8 88.1 L414.2 101.4 L414.7 120.3 L415.1 142.1 L415.6 169.5 L416.0 198.8 L416.5 219.7 L416.9 238.0 L417.4 251.3 L417.8 266.1 L418.3 272.8 L418.7 279.8 L419.2 280.4 L419.6 288.2 L420.1 290.8 L420.6 294.2 L421.0 289.4 L421.5 295.6 L421.9 300.6 L422.4 307.6 L422.8 302.0 L423.3 296.4 L423.7 294.6 L424.2 301.1 L424.6 305.4 L425.1 309.1 L425.5 307.2 L426.0 306.7 L426.4 309.6 L426.9 315.3 L427.4 316.5 L427.8 315.2 L428.3 309.9 L428.7 311.5 L429.2 309.2 L429.6 305.0 L430.1 306.4 L430.5 311.6 L431.0 317.4 L431.4 316.8 L431.9 316.2 L432.3 312.1 L432.8 312.1 L433.2 313.5 L433.7 314.9 L434.2 315.3 L434.6 308.0 L435.1 308.3 L435.5 309.0 L436.0 313.2 L436.4 310.3 L436.9 308.4 L437.3 304.7 L437.8 307.7 L438.2 309.3 L438.7 313.3 L439.1 313.5 L439.6 314.1 L440.0 313.3 L440.5 308.9 L441.0 310.2 L441.4 310.5 L441.9 320.6 L442.3 319.7 L442.8 318.1 L443.2 317.5 L443.7 318.1 L444.1 318.4 L444.6 312.5 L445.0 313.8 L445.5 316.4 L445.9 313.2 L446.4 303.4 L446.8 302.6 L447.3 311.9 L447.8 322.7 L448.2 319.3 L448.7 321.0 L449.1 316.6 L449.6 318.8 L450.0 316.3 L450.5 322.2 L450.9 325.2 L451.4 330.0 L451.8 328.9 L452.3 327.7 L452.7 322.1 L453.2 319.4 L453.6 321.7 L454.1 320.1 L454.6 319.1 L455.0 316.4 L455.5 318.5 L455.9 319.6 L456.4 318.9 L456.8 320.3 L457.3 324.5 L457.7 326.3 L458.2 321.7 L458.6 319.7 L459.1 316.8 L459.5 320.2 L460.0 315.4 L460.4 317.6 L460.9 317.3 L461.4 316.7 L461.8 316.3 L462.3 317.2 L462.7 324.8 L463.2 325.5 L463.6 326.9 L464.1 326.5 L464.5 332.6 L465.0 334.9 L465.4 332.0 L465.9 327.9 L466.3 322.8 L466.8 323.8 L467.2 322.2 L467.7 324.5 L468.2 323.8 L468.6 319.2 L469.1 320.1 L469.5 321.6 L470.0 327.2 L470.4 323.1 L470.9 326.1 L471.3 325.9 L471.8 325.4 L472.2 320.5 L472.7 321.6 L473.1 325.2 L473.6 322.1 L474.0 317.0 L474.5 315.7 L475.0 320.6 L475.4 324.8 L475.9 323.3 L476.3 323.3 L476.8 321.7 L477.2 323.0 L477.7 324.7 L478.1 322.5 L478.6 323.9 L479.0 320.8 L479.5 316.1 L479.9 306.5 L480.4 306.5 L480.8 309.6 L481.3 319.0 L481.8 314.9 L482.2 315.3 L482.7 318.2 L483.1 318.0 L483.6 315.1 L484.0 307.4 L484.5 311.6 L484.9 317.1 L485.4 318.5 L485.8 311.8 L486.3 313.8 L486.7 317.2 L487.2 324.4 L487.6 326.8 L488.1 322.4 L488.6 317.2 L489.0 315.9 L489.5 320.9 L489.9 323.1 L490.4 320.7 L490.8 320.8 L491.3 325.1 L491.7 325.3 L492.2 326.6 L492.6 320.9 L493.1 318.2 L493.5 319.8 L494.0 318.4 L494.4 325.0 L494.9 326.3 L495.4 335.0 L495.8 331.1 L496.3 325.7 L496.7 325.6 L497.2 326.2 L497.6 326.6 L498.1 324.8 L498.5 325.1 L499.0 326.2 L499.4 324.3 L499.9 325.8 L500.3 325.3 L500.8 327.0 L501.2 327.8 L501.7 328.3 L502.2 327.3 L502.6 323.2 L503.1 317.9 L503.5 313.8 L504.0 316.3 L504.4 319.3 L504.9 327.8 L505.3 326.0 L505.8 327.8 L506.2 320.4 L506.7 319.1 L507.1 321.9 L507.6 330.1 L508.0 329.9 L508.5 324.1 L508.9 321.0 L509.4 324.4 L509.9 328.3 L510.3 327.6 L510.8 332.0 L511.2 332.5 L511.7 337.0 L512.1 331.9 L512.6 333.1 L513.0 327.5 L513.5 329.1 L513.9 329.4 L514.4 331.5 L514.8 335.6 L515.3 333.6 L515.7 334.7 L516.2 330.3 L516.7 327.4 L517.1 319.3 L517.6 313.8 L518.0 314.1 L518.5 317.2 L518.9 317.0 L519.4 316.9 L519.8 313.1 L520.3 324.5 L520.7 324.5 L521.2 331.7 L521.6 329.8 L522.1 333.8 L522.5 329.2 L523.0 324.7 L523.5 321.0 L523.9 329.2 L524.4 332.1 L524.8 336.6 L525.3 336.0 L525.5 329.5"/>
<path stroke="#999999" d="M72.2 328.2 L72.4 328.1 L72.9 326.9 L73.3 326.2 L73.8 325.7 L74.2 325.4 L74.7 326.4 L75.1 326.3 L75.6 325.6 L76.0 324.2 L76.5 323.0 L77.0 323.8 L77.4 322.4 L77.9 321.0 L78.3 320.7 L78.8 320.3 L79.2 321.1 L79.7 320.0 L80.1 320.4 L80.6 319.5 L81.0 319.1 L81.5 318.0 L81.9 316.0 L82.4 314.4 L82.8 316.3 L83.3 316.1 L83.8 316.8 L84.2 313.0 L84.7 314.0 L85.1 313.7 L85.6 315.5 L86.0 314.8 L86.5 312.7 L86.9 311.8 L87.4 310.3 L87.8 310.8 L88.3 309.8 L88.7 309.8 L89.2 310.3 L89.6 309.2 L90.1 310.5 L90.6 310.6 L91.0 309.9 L91.5 309.2 L91.9 306.1 L92.4 306.7 L92.8 304.7 L93.3 303.1 L93.7 301.3 L94.2 301.6 L94.6 303.6 L95.1 304.6 L95.5 304.0 L96.0 302.8 L96.4 302.6 L96.9 302.2 L97.4 303.1 L97.8 303.0 L98.3 302.8 L98.7 303.9 L99.2 303.4 L99.6 304.1 L100.1 303.2 L100.5 302.8 L101.0 300.8 L101.4 300.2 L101.9 301.7 L102.3 303.3 L102.8 301.9 L103.2 301.2 L103.7 302.5 L104.2 303.8 L104.6 301.3 L105.1 298.0 L105.5 296.9 L106.0 299.4 L106.4 301.2 L106.9 301.5 L107.3 300.2 L107.8 300.8 L108.2 300.1 L108.7 299.7 L109.1 298.2 L109.6 301.8 L110.0 302.8 L110.5 302.8 L111.0 300.1 L111.4 299.1 L111.9 299.2 L112.3 297.9 L112.8 298.3 L113.2 297.0 L113.7 298.5 L114.1 297.8 L114.6 300.2 L115.0 298.9 L115.5 301.0 L115.9 300.8 L116.4 303.1 L116.8 301.3 L117.3 300.1 L117.8 295.5 L118.2 296.2 L118.7 296.1 L119.1 297.6 L119.6 296.8 L120.0 297.0 L120.5 298.7 L120.9 298.0 L121.4 298.7 L121.8 299.5 L122.3 300.7 L122.7 300.6 L123.2 300.7 L123.6 301.4 L124.1 300.7 L124.6 298.3 L125.0 295.7 L125.5 296.6 L125.9 299.5 L126.4 301.1 L126.8 303.9 L127.3 303.4 L127.7 303.7 L128.2 302.9 L128.6 301.0 L129.1 302.5 L129.5 298.0 L130.0 299.4 L130.4 298.0 L130.9 299.4 L131.4 301.7 L131.8 300.1 L132.3 300.6 L132.7 298.6 L133.2 299.1 L133.6 300.1 L134.1 300.8 L134.5 300.9 L135.0 301.1 L135.4 298.4 L135.9 300.7 L136.3 301.5 L136.8 303.5 L137.2 301.7 L137.7 300.4 L138.2 297.6 L138.6 297.5 L139.1 298.1 L139.5 301.0 L140.0 302.3 L140.4 301.6 L140.9 300.8 L141.3 298.7 L141.8 298.7 L142.2 299.7 L142.7 299.2 L143.1 298.6 L143.6 299.9 L144.0 300.9 L144.5 299.5 L144.9 299.3 L145.4 300.2 L145.9 301.7 L146.3 302.5 L146.8 301.3 L147.2 301.4 L147.7 297.9 L148.1 299.8 L148.6 297.7 L149.0 298.6 L149.5 296.9 L149.9 299.8 L150.4 300.9 L150.8 300.0 L151.3 298.1 L151.7 295.8 L152.2 296.7 L152.7 297.1 L153.1 299.0 L153.6 297.9 L154.0 298.9 L154.5 298.9 L154.9 299.7 L155.4 299.7 L155.8 297.6 L156.3 298.9 L156.7 299.3 L157.2 301.1 L157.6 299.3 L158.1 298.6 L158.5 298.6 L159.0 300.1 L159.5 300.9 L159.9 300.9 L160.4 300.2 L160.8 300.1 L161.3 300.1 L161.7 302.7 L162.2 301.4 L162.6 300.9 L163.1 299.5 L163.5 298.0 L164.0 298.2 L164.4 299.0 L164.9 302.7 L165.3 304.3 L165.8 304.7 L166.3 304.1 L166.7 302.1 L167.2 303.8 L167.6 306.9 L168.1 309.2 L168.5 306.6 L169.0 303.8 L169.4 303.4 L169.9 305.6 L170.3 308.1 L170.8 307.8 L171.2 307.1 L171.7 307.0 L172.1 306.1 L172.6 305.4 L173.1 302.6 L173.5 300.4 L174.0 299.5 L174.4 305.1 L174.9 311.7 L175.3 316.2 L175.8 315.6 L176.2 311.2 L176.7 306.8 L177.1 302.3 L177.6 304.4 L178.0 305.1 L178.5 307.9 L178.9 304.6 L179.4 306.2 L179.9 304.7 L180.3 305.2 L180.8 303.2 L181.2 304.6 L181.7 305.1 L182.1 307.1 L182.6 307.3 L183.0 309.2 L183.5 309.4 L183.9 310.6 L184.4 314.1 L184.8 312.0 L185.3 307.7 L185.7 302.3 L186.2 304.1 L186.7 307.2 L187.1 304.5 L187.6 303.1 L188.0 303.7 L188.5 306.8 L188.9 305.9 L189.4 303.0 L189.8 302.5 L190.3 303.0 L190.7 305.7 L191.2 304.9 L191.6 308.2 L192.1 306.8 L192.5 309.0 L193.0 307.2 L193.5 307.5 L193.9 306.5 L194.4 304.6 L194.8 303.1 L195.3 304.7 L195.7 306.3 L196.2 308.1 L196.6 311.7 L197.1 314.0 L197.5 313.3 L198.0 308.9 L198.4 307.5 L198.9 309.2 L199.3 309.4 L199.8 307.2 L200.3 306.0 L200.7 307.2 L201.2 306.4 L201.6 309.2 L202.1 308.3 L202.5 311.1 L203.0 307.6 L203.4 304.6 L203.9 304.2 L204.3 304.8 L204.8 307.5 L205.2 307.6 L205.7 310.2 L206.1 311.6 L206.6 312.0 L207.1 310.6 L207.5 309.7 L208.0 309.5 L208.4 311.2 L208.9 312.8 L209.3 312.5 L209.8 310.5 L210.2 309.2 L210.7 310.4 L211.1 312.8 L211.6 310.8 L212.0 309.9 L212.5 310.9 L212.9 312.8 L213.4 313.8 L213.9 311.1 L214.3 314.5 L214.8 313.5 L215.2 314.9 L215.7 310.4 L216.1 313.8 L216.6 311.6 L217.0 310.9 L217.5 307.5 L217.9 309.9 L218.4 312.7 L218.8 313.6 L219.3 314.6 L219.7 312.7 L220.2 311.5 L220.7 309.9 L221.1 311.4 L221.6 314.2 L222.0 314.0 L222.5 316.0 L222.9 316.2 L223.4 315.2 L223.8 314.0 L224.3 311.7 L224.7 313.1 L225.2 312.0 L225.6 311.2 L226.1 308.3 L226.5 308.3 L227.0 310.8 L227.5 315.7 L227.9 317.5 L228.4 314.7 L228.8 310.5 L229.3 309.9 L229.7 313.3 L230.2 315.9 L230.6 315.1 L231.1 314.6 L231.5 314.2 L232.0 314.0 L232.4 315.4 L232.9 316.5 L233.3 316.5 L233.8 315.7 L234.3 317.0 L234.7 315.5 L235.2 316.7 L235.6 313.1 L236.1 317.0 L236.5 314.5 L237.0 319.6 L237.4 321.2 L237.9 321.6 L238.3 317.8 L238.8 315.9 L239.2 318.8 L239.7 319.5 L240.1 318.8 L240.6 317.0 L241.0 316.5 L241.5 316.0 L242.0 317.3 L242.4 318.9 L242.9 317.6 L243.3 314.5 L243.8 314.5 L244.2 314.8 L244.7 315.9 L245.1 313.3 L245.6 312.8 L246.0 310.8 L246.5 312.7 L246.9 314.1 L247.4 317.1 L247.8 316.9 L248.3 318.0 L248.8 317.9 L249.2 319.5 L249.7 316.0 L250.1 314.1 L250.6 312.8 L251.0 312.9 L251.5 316.4 L251.9 315.1 L252.4 316.7 L252.8 313.6 L253.3 313.8 L253.7 313.9 L254.2 313.7 L254.6 315.1 L255.1 317.2 L255.6 316.4 L256.0 315.7 L256.5 316.3 L256.9 317.2 L257.4 315.5 L257.8 311.5 L258.3 311.8 L258.7 314.1 L259.2 314.7 L259.6 312.0 L260.1 311.1 L260.5 311.4 L261.0 313.8 L261.4 314.0 L261.9 316.3 L262.4 318.3 L262.8 316.5 L263.3 317.3 L263.7 313.6 L264.2 315.0 L264.6 315.3 L265.1 317.8 L265.5 319.8 L266.0 318.7 L266.4 318.6 L266.9 319.9 L267.3 318.7 L267.8 320.7 L268.2 320.5 L268.7 320.9 L269.2 317.6 L269.6 317.8 L270.1 318.3 L270.5 320.2 L271.0 318.4 L271.4 317.4 L271.9 319.0 L272.3 317.7 L272.8 320.5 L273.2 318.1 L273.7 318.9 L274.1 318.2 L274.6 317.4 L275.0 318.3 L275.5 317.4 L276.0 320.1 L276.4 319.3 L276.9 321.9 L277.3 321.3 L277.8 320.2 L278.2 319.3 L278.7 317.5 L279.1 320.3 L279.6 317.7 L280.0 322.3 L280.5 323.2 L280.9 325.4 L281.4 321.8 L281.8 321.8 L282.3 323.4 L282.8 325.3 L283.2 323.5 L283.7 320.2 L284.1 320.8 L284.6 323.9 L285.0 323.7 L285.5 322.9 L285.9 319.8 L286.4 323.5 L286.8 324.6 L287.3 328.2 L287.7 323.4 L288.2 324.1 L288.6 321.6 L289.1 324.9 L289.6 324.8 L290.0 324.2 L290.5 321.3 L290.9 322.8 L291.4 324.1 L291.8 329.0 L292.3 327.6 L292.7 325.5 L293.2 323.1 L293.6 323.8 L294.1 328.6 L294.5 330.4 L295.0 327.8 L295.4 326.4 L295.9 323.8 L296.4 327.8 L296.8 324.0 L297.3 327.2 L297.7 325.5 L298.2 329.6 L298.6 329.3 L299.1 327.7 L299.5 325.8 L300.0 326.1 L300.4 329.8 L300.9 333.3 L301.3 333.9 L301.8 332.8 L302.2 331.8 L302.7 331.3 L303.2 331.4 L303.6 330.4 L304.1 331.7 L304.5 328.9 L305.0 326.6 L305.4 325.4 L305.9 327.9 L306.3 331.8 L306.8 333.4 L307.2 335.4 L307.7 335.5 L308.1 334.1 L308.6 330.8 L309.0 331.8 L309.5 331.7 L310.0 334.3 L310.4 332.0 L310.9 333.8 L311.3 333.2 L311.8 333.7 L312.2 331.5 L312.7 330.6 L313.1 331.8 L313.6 332.3 L314.0 333.4 L314.5 333.0 L314.9 333.1 L315.4 334.5 L315.8 332.4 L316.3 330.6 L316.8 328.8 L317.2 328.9 L317.7 331.0 L318.1 329.7 L318.6 329.1 L319.0 327.9 L319.5 326.1 L319.9 328.2 L320.4 326.2 L320.8 326.9 L321.3 323.4 L321.7 324.5 L322.2 321.7 L322.6 322.4 L323.1 318.5 L323.6 319.1 L324.0 317.1 L324.5 319.2 L324.9 319.4 L325.4 317.2 L325.8 315.3 L326.3 314.4 L326.7 314.6 L327.2 317.2 L327.6 315.7 L328.1 314.8 L328.5 313.6 L329.0 314.1 L329.4 315.4 L329.9 311.7 L330.3 313.5 L330.8 315.4 L331.3 318.0 L331.7 314.4 L332.2 311.6 L332.6 311.6 L333.1 308.1 L333.5 307.1 L334.0 302.9 L334.4 302.3 L334.9 299.0 L335.3 298.7 L335.8 302.6 L336.2 303.2 L336.7 304.0 L337.1 301.9 L337.6 302.3 L338.1 298.4 L338.5 293.7 L339.0 294.1 L339.4 293.5 L339.9 294.6 L340.3 290.4 L340.8 289.9 L341.2 290.0 L341.7 288.5 L342.1 288.5 L342.6 291.6 L343.0 292.0 L343.5 289.9 L343.9 286.5 L344.4 285.5 L344.9 290.5 L345.3 288.8 L345.8 288.5 L346.2 285.0 L346.7 288.2 L347.1 288.5 L347.6 284.3 L348.0 278.8 L348.5 274.8 L348.9 277.7 L349.4 275.4 L349.8 281.0 L350.3 280.6 L350.7 279.8 L351.2 273.6 L351.7 270.5 L352.1 271.3 L352.6 270.5 L353.0 272.9 L353.5 271.1 L353.9 272.6 L354.4 271.7 L354.8 271.3 L355.3 265.6 L355.7 264.4 L356.2 267.3 L356.6 269.9 L357.1 266.1 L357.5 267.3 L358.0 267.6 L358.5 273.5 L358.9 273.0 L359.4 277.3 L359.8 272.8 L360.3 270.0 L360.7 270.1 L361.2 272.3 L361.6 274.4 L362.1 273.2 L362.5 275.9 L363.0 274.7 L363.4 272.9 L363.9 269.0 L364.3 271.2 L364.8 268.5 L365.3 271.9 L365.7 269.1 L366.2 276.3 L366.6 276.7 L367.1 279.7 L367.5 275.9 L368.0 272.4 L368.4 270.9 L368.9 270.9 L369.3 271.2 L369.8 272.2 L370.2 272.7 L370.7 278.1 L371.1 279.6 L371.6 278.9 L372.1 273.2 L372.5 269.6 L373.0 273.8 L373.4 274.8 L373.9 277.1 L374.3 276.5 L374.8 280.3 L375.2 283.8 L375.7 281.0 L376.1 280.6 L376.6 282.3 L377.0 288.8 L377.5 288.4 L377.9 289.3 L378.4 284.0 L378.9 284.4 L379.3 280.8 L379.8 284.7 L380.2 283.8 L380.7 283.7 L381.1 284.6 L381.6 289.3 L382.0 290.6 L382.5 287.6 L382.9 286.5 L383.4 283.8 L383.8 285.7 L384.3 284.2 L384.7 291.0 L385.2 291.5 L385.7 295.5 L386.1 286.4 L386.6 284.1 L387.0 282.5 L387.5 288.7 L387.9 286.2 L388.4 283.6 L388.8 285.6 L389.3 288.5 L389.7 287.9 L390.2 286.8 L390.6 291.7 L391.1 293.8 L391.5 291.7 L392.0 290.0 L392.5 291.4 L392.9 299.3 L393.4 301.2 L393.8 304.0 L394.3 299.3 L394.7 295.3 L395.2 293.6 L395.6 296.6 L396.1 296.5 L396.5 295.1 L397.0 291.9 L397.4 295.1 L397.9 293.8 L398.3 295.5 L398.8 292.0 L399.3 291.1 L399.7 284.9 L400.2 280.2 L400.6 282.0 L401.1 285.9 L401.5 292.1 L402.0 294.4 L402.4 291.4 L402.9 288.5 L403.3 290.2 L403.8 286.9 L404.2 292.8 L404.7 287.4 L405.1 291.4 L405.6 285.7 L406.1 283.6 L406.5 283.1 L407.0 281.4 L407.4 282.6 L407.9 275.9 L408.3 263.6 L408.8 248.9 L409.2 241.1 L409.7 233.3 L410.1 221.1 L410.6 193.5 L411.0 168.1 L411.5 140.1 L411.9 119.9 L412.4 99.1 L412.9 84.4 L413.3 75.7 L413.8 87.2 L414.2 101.1 L414.7 114.0 L415.1 139.1 L415.6 168.1 L416.0 198.2 L416.5 219.2 L416.9 237.4 L417.4 253.7 L417.8 267.1 L418.3 275.7 L418.7 279.5 L419.2 281.0 L419.6 285.1 L420.1 292.8 L420.6 300.9 L421.0 300.4 L421.5 300.4 L421.9 300.4 L422.4 303.9 L422.8 302.3 L423.3 297.0 L423.7 291.0 L424.2 298.2 L424.6 303.2 L425.1 311.4 L425.5 310.9 L426.0 311.4 L426.4 307.2 L426.9 305.1 L427.4 307.6 L427.8 313.8 L428.3 313.4 L428.7 310.5 L429.2 308.8 L429.6 307.9 L430.1 307.9 L430.5 309.0 L431.0 308.3 L431.4 312.7 L431.9 310.2 L432.3 311.7 L432.8 310.8 L433.2 312.5 L433.7 309.3 L434.2 310.0 L434.6 306.4 L435.1 310.7 L435.5 310.9 L436.0 312.3 L436.4 306.5 L436.9 303.2 L437.3 305.5 L437.8 308.2 L438.2 312.5 L438.7 312.4 L439.1 319.6 L439.6 315.6 L440.0 315.9 L440.5 306.8 L441.0 311.8 L441.4 315.7 L441.9 322.1 L442.3 318.6 L442.8 313.0 L443.2 313.2 L443.7 313.3 L444.1 316.5 L444.6 314.1 L445.0 318.3 L445.5 315.8 L445.9 315.3 L446.4 305.3 L446.8 306.9 L447.3 311.0 L447.8 317.2 L448.2 316.9 L448.7 316.4 L449.1 317.3 L449.6 315.0 L450.0 319.6 L450.5 321.0 L450.9 322.3 L451.4 318.3 L451.8 325.4 L452.3 328.8 L452.7 326.8 L453.2 321.0 L453.6 320.5 L454.1 323.2 L454.6 318.2 L455.0 314.7 L455.5 315.5 L455.9 323.7 L456.4 325.7 L456.8 324.3 L457.3 321.6 L457.7 324.6 L458.2 318.9 L458.6 320.8 L459.1 322.0 L459.5 329.0 L460.0 323.9 L460.4 323.2 L460.9 324.1 L461.4 321.0 L461.8 313.9 L462.3 313.3 L462.7 321.5 L463.2 327.9 L463.6 320.3 L464.1 320.1 L464.5 322.2 L465.0 327.1 L465.4 323.9 L465.9 322.6 L466.3 319.6 L466.8 319.4 L467.2 315.2 L467.7 320.7 L468.2 322.2 L468.6 320.4 L469.1 319.1 L469.5 318.1 L470.0 323.8 L470.4 319.9 L470.9 326.3 L471.3 325.9 L471.8 330.4 L472.2 324.4 L472.7 324.5 L473.1 324.1 L473.6 326.3 L474.0 328.7 L474.5 326.7 L475.0 329.0 L475.4 325.2 L475.9 326.1 L476.3 322.0 L476.8 323.3 L477.2 320.7 L477.7 320.1 L478.1 313.6 L478.6 315.9 L479.0 311.4 L479.5 311.5 L479.9 303.5 L480.4 305.2 L480.8 304.5 L481.3 309.6 L481.8 310.6 L482.2 311.0 L482.7 313.7 L483.1 309.0 L483.6 313.9 L484.0 307.7 L484.5 312.1 L484.9 310.1 L485.4 314.4 L485.8 311.6 L486.3 310.0 L486.7 308.5 L487.2 316.9 L487.6 322.9 L488.1 324.0 L488.6 321.1 L489.0 316.3 L489.5 321.8 L489.9 317.6 L490.4 317.8 L490.8 318.7 L491.3 322.3 L491.7 321.3 L492.2 321.2 L492.6 322.7 L493.1 327.2 L493.5 327.7 L494.0 323.4 L494.4 323.4 L494.9 322.0 L495.4 327.1 L495.8 323.2 L496.3 316.6 L496.7 317.0 L497.2 317.7 L497.6 321.3 L498.1 321.3 L498.5 324.6 L499.0 325.4 L499.4 323.8 L499.9 325.1 L500.3 324.9 L500.8 325.2 L501.2 327.6 L501.7 329.8 L502.2 325.4 L502.6 322.2 L503.1 323.4 L503.5 325.6 L504.0 325.0 L504.4 314.0 L504.9 319.8 L505.3 318.0 L505.8 329.9 L506.2 322.5 L506.7 321.4 L507.1 326.1 L507.6 334.0 L508.0 337.2 L508.5 325.4 L508.9 323.3 L509.4 323.6 L509.9 328.5 L510.3 329.1 L510.8 325.5 L511.2 326.8 L511.7 328.2 L512.1 332.6 L512.6 333.0 L513.0 322.6 L513.5 325.9 L513.9 328.1 L514.4 331.2 L514.8 327.6 L515.3 325.4 L515.7 332.8 L516.2 332.4 L516.7 327.0 L517.1 316.7 L517.6 315.8 L518.0 314.5 L518.5 318.1 L518.9 313.4 L519.4 316.9 L519.8 316.8 L520.3 323.7 L520.7 326.7 L521.2 332.2 L521.6 332.1 L522.1 337.0 L522.5 338.1 L523.0 340.4 L523.5 333.6 L523.9 332.5 L524.4 330.9 L524.8 332.3 L525.3 333.0 L525.5 326.2"/>
<path stroke="#ff8080" d="M72.2 346.3 L72.4 346.0 L72.9 345.3 L73.3 346.3 L73.8 343.7 L74.2 340.9 L74.7 337.1 L75.1 336.7 L75.6 335.5 L76.0 334.2 L76.5 331.4 L77.0 332.6 L77.4 331.4 L77.9 330.9 L78.3 329.6 L78.8 330.0 L79.2 331.3 L79.7 330.6 L80.1 332.0 L80.6 329.5 L81.0 328.5 L81.5 325.4 L81.9 324.9 L82.4 322.1 L82.8 322.8 L83.3 322.9 L83.8 322.6 L84.2 320.8 L84.7 320.8 L85.1 322.0 L85.6 322.0 L86.0 320.4 L86.5 318.0 L86.9 317.6 L87.4 317.1 L87.8 317.0 L88.3 316.2 L88.7 315.7 L89.2 316.3 L89.6 315.6 L90.1 316.0 L90.6 315.9 L91.0 313.7 L91.5 313.8 L91.9 312.8 L92.4 314.1 L92.8 313.3 L93.3 311.6 L93.7 310.3 L94.2 310.3 L94.6 312.0 L95.1 311.0 L95.5 309.1 L96.0 307.7 L96.4 308.2 L96.9 307.6 L97.4 306.9 L97.8 307.7 L98.3 306.3 L98.7 306.7 L99.2 305.1 L99.6 308.1 L100.1 308.2 L100.5 307.4 L101.0 304.9 L101.4 302.9 L101.9 304.3 L102.3 305.5 L102.8 305.4 L103.2 306.6 L103.7 306.3 L104.2 308.3 L104.6 303.7 L105.1 302.7 L105.5 302.2 L106.0 304.4 L106.4 305.6 L106.9 303.9 L107.3 305.4 L107.8 304.9 L108.2 306.1 L108.7 304.8 L109.1 304.6 L109.6 306.0 L110.0 306.3 L110.5 306.4 L111.0 304.2 L111.4 302.6 L111.9 301.5 L112.3 301.3 L112.8 303.6 L113.2 302.6 L113.7 304.1 L114.1 302.2 L114.6 304.5 L115.0 303.6 L115.5 306.3 L115.9 307.4 L116.4 305.9 L116.8 304.7 L117.3 302.1 L117.8 300.4 L118.2 299.7 L118.7 299.5 L119.1 303.0 L119.6 302.8 L120.0 300.7 L120.5 300.3 L120.9 299.6 L121.4 301.4 L121.8 301.5 L122.3 303.0 L122.7 303.5 L123.2 304.4 L123.6 302.7 L124.1 303.8 L124.6 302.3 L125.0 303.6 L125.5 304.8 L125.9 305.3 L126.4 306.1 L126.8 306.7 L127.3 306.8 L127.7 305.6 L128.2 305.0 L128.6 304.6 L129.1 305.9 L129.5 303.7 L130.0 305.6 L130.4 302.7 L130.9 303.6 L131.4 305.0 L131.8 305.8 L132.3 303.9 L132.7 302.2 L133.2 302.8 L133.6 304.2 L134.1 302.5 L134.5 302.2 L135.0 302.6 L135.4 304.7 L135.9 306.4 L136.3 306.9 L136.8 306.4 L137.2 304.0 L137.7 303.6 L138.2 302.1 L138.6 303.7 L139.1 303.9 L139.5 304.2 L140.0 303.9 L140.4 302.6 L140.9 302.0 L141.3 303.7 L141.8 306.4 L142.2 307.9 L142.7 304.8 L143.1 302.7 L143.6 302.2 L144.0 303.1 L144.5 301.6 L144.9 301.5 L145.4 302.3 L145.9 304.7 L146.3 305.3 L146.8 303.6 L147.2 301.4 L147.7 299.9 L148.1 301.2 L148.6 302.3 L149.0 304.0 L149.5 303.9 L149.9 307.4 L150.4 307.0 L150.8 304.6 L151.3 301.8 L151.7 300.9 L152.2 302.5 L152.7 302.8 L153.1 303.0 L153.6 301.6 L154.0 301.1 L154.5 301.0 L154.9 303.5 L155.4 302.5 L155.8 302.5 L156.3 302.7 L156.7 304.1 L157.2 308.2 L157.6 308.1 L158.1 306.9 L158.5 305.0 L159.0 305.4 L159.5 307.0 L159.9 304.9 L160.4 303.8 L160.8 303.4 L161.3 302.7 L161.7 306.7 L162.2 306.4 L162.6 307.7 L163.1 303.5 L163.5 304.6 L164.0 303.8 L164.4 309.1 L164.9 310.7 L165.3 311.5 L165.8 309.4 L166.3 307.5 L166.7 307.6 L167.2 309.4 L167.6 312.4 L168.1 312.4 L168.5 310.1 L169.0 308.4 L169.4 310.9 L169.9 310.9 L170.3 312.9 L170.8 312.8 L171.2 314.4 L171.7 314.9 L172.1 313.6 L172.6 310.0 L173.1 303.2 L173.5 299.9 L174.0 301.3 L174.4 309.6 L174.9 315.8 L175.3 319.2 L175.8 317.9 L176.2 316.4 L176.7 315.5 L177.1 311.7 L177.6 312.6 L178.0 312.0 L178.5 314.4 L178.9 312.3 L179.4 315.2 L179.9 315.5 L180.3 313.5 L180.8 309.2 L181.2 307.6 L181.7 308.8 L182.1 308.1 L182.6 309.8 L183.0 313.8 L183.5 316.2 L183.9 316.9 L184.4 316.0 L184.8 313.5 L185.3 310.6 L185.7 309.0 L186.2 310.9 L186.7 312.5 L187.1 310.6 L187.6 311.3 L188.0 311.0 L188.5 310.6 L188.9 310.3 L189.4 309.9 L189.8 310.6 L190.3 310.5 L190.7 313.7 L191.2 312.9 L191.6 313.4 L192.1 310.3 L192.5 315.2 L193.0 312.7 L193.5 314.5 L193.9 312.4 L194.4 313.1 L194.8 310.2 L195.3 310.6 L195.7 310.8 L196.2 312.8 L196.6 313.3 L197.1 315.2 L197.5 316.3 L198.0 314.3 L198.4 313.1 L198.9 314.3 L199.3 314.2 L199.8 314.2 L200.3 311.9 L200.7 311.4 L201.2 310.3 L201.6 311.5 L202.1 312.3 L202.5 317.1 L203.0 315.0 L203.4 315.3 L203.9 311.8 L204.3 313.4 L204.8 313.2 L205.2 313.0 L205.7 313.0 L206.1 312.8 L206.6 312.7 L207.1 313.2 L207.5 312.3 L208.0 313.6 L208.4 314.0 L208.9 317.1 L209.3 314.6 L209.8 312.1 L210.2 309.1 L210.7 312.1 L211.1 314.6 L211.6 314.9 L212.0 311.7 L212.5 310.3 L212.9 311.3 L213.4 314.4 L213.9 314.8 L214.3 316.5 L214.8 317.1 L215.2 317.8 L215.7 315.7 L216.1 316.7 L216.6 315.4 L217.0 314.6 L217.5 313.5 L217.9 317.4 L218.4 317.7 L218.8 317.2 L219.3 315.8 L219.7 315.9 L220.2 313.3 L220.7 313.0 L221.1 312.4 L221.6 316.9 L222.0 314.7 L222.5 316.3 L222.9 316.6 L223.4 316.4 L223.8 318.7 L224.3 314.5 L224.7 314.8 L225.2 313.7 L225.6 314.2 L226.1 312.6 L226.5 313.1 L227.0 314.8 L227.5 319.7 L227.9 316.0 L228.4 313.1 L228.8 311.1 L229.3 315.3 L229.7 320.8 L230.2 322.1 L230.6 320.4 L231.1 318.1 L231.5 317.4 L232.0 319.0 L232.4 320.7 L232.9 319.9 L233.3 317.6 L233.8 316.8 L234.3 317.8 L234.7 317.1 L235.2 316.3 L235.6 318.4 L236.1 321.9 L236.5 323.0 L237.0 323.8 L237.4 326.9 L237.9 325.6 L238.3 321.2 L238.8 319.4 L239.2 321.4 L239.7 323.5 L240.1 322.6 L240.6 322.7 L241.0 318.6 L241.5 316.4 L242.0 315.9 L242.4 321.5 L242.9 322.8 L243.3 321.6 L243.8 322.2 L244.2 320.2 L244.7 323.7 L245.1 320.8 L245.6 321.8 L246.0 316.0 L246.5 318.7 L246.9 318.9 L247.4 321.0 L247.8 318.8 L248.3 316.5 L248.8 316.7 L249.2 317.5 L249.7 317.4 L250.1 319.5 L250.6 318.8 L251.0 319.5 L251.5 319.7 L251.9 321.4 L252.4 323.0 L252.8 320.9 L253.3 318.0 L253.7 315.6 L254.2 315.3 L254.6 317.7 L255.1 320.3 L255.6 319.9 L256.0 317.7 L256.5 320.9 L256.9 318.9 L257.4 317.5 L257.8 311.4 L258.3 313.7 L258.7 315.4 L259.2 316.9 L259.6 313.5 L260.1 315.0 L260.5 314.6 L261.0 318.1 L261.4 315.3 L261.9 317.6 L262.4 317.1 L262.8 317.0 L263.3 318.7 L263.7 318.4 L264.2 321.2 L264.6 319.9 L265.1 322.6 L265.5 321.7 L266.0 320.4 L266.4 321.1 L266.9 321.1 L267.3 320.7 L267.8 320.9 L268.2 322.2 L268.7 322.1 L269.2 318.8 L269.6 318.5 L270.1 319.2 L270.5 319.9 L271.0 320.0 L271.4 319.5 L271.9 320.0 L272.3 316.5 L272.8 318.3 L273.2 318.3 L273.7 322.2 L274.1 322.9 L274.6 323.0 L275.0 322.0 L275.5 319.9 L276.0 320.4 L276.4 321.9 L276.9 322.9 L277.3 321.3 L277.8 317.6 L278.2 319.5 L278.7 320.9 L279.1 326.0 L279.6 323.6 L280.0 325.8 L280.5 326.3 L280.9 328.6 L281.4 328.2 L281.8 327.1 L282.3 326.0 L282.8 326.9 L283.2 326.2 L283.7 326.1 L284.1 325.1 L284.6 326.0 L285.0 325.7 L285.5 326.2 L285.9 326.4 L286.4 328.0 L286.8 328.7 L287.3 331.8 L287.7 327.9 L288.2 326.7 L288.6 321.4 L289.1 324.2 L289.6 324.1 L290.0 325.7 L290.5 324.2 L290.9 325.8 L291.4 324.6 L291.8 326.1 L292.3 326.6 L292.7 326.5 L293.2 325.8 L293.6 324.3 L294.1 327.4 L294.5 330.4 L295.0 326.1 L295.4 326.3 L295.9 325.9 L296.4 333.1 L296.8 330.4 L297.3 331.0 L297.7 327.9 L298.2 331.1 L298.6 333.3 L299.1 331.8 L299.5 328.3 L300.0 326.2 L300.4 330.3 L300.9 334.3 L301.3 334.7 L301.8 334.6 L302.2 333.0 L302.7 334.2 L303.2 333.7 L303.6 333.6 L304.1 333.4 L304.5 331.2 L305.0 327.9 L305.4 329.5 L305.9 332.8 L306.3 335.1 L306.8 335.3 L307.2 335.5 L307.7 339.0 L308.1 338.2 L308.6 338.9 L309.0 339.3 L309.5 338.1 L310.0 336.3 L310.4 334.8 L310.9 335.2 L311.3 333.9 L311.8 333.0 L312.2 330.7 L312.7 332.4 L313.1 334.2 L313.6 331.4 L314.0 329.3 L314.5 326.8 L314.9 329.8 L315.4 331.9 L315.8 331.9 L316.3 329.5 L316.8 327.9 L317.2 327.8 L317.7 327.9 L318.1 330.5 L318.6 329.3 L319.0 333.6 L319.5 329.9 L319.9 331.3 L320.4 328.1 L320.8 326.6 L321.3 325.4 L321.7 325.6 L322.2 326.1 L322.6 327.4 L323.1 327.2 L323.6 324.9 L324.0 322.6 L324.5 319.7 L324.9 321.7 L325.4 320.7 L325.8 319.1 L326.3 316.2 L326.7 316.7 L327.2 320.0 L327.6 322.8 L328.1 318.2 L328.5 314.8 L329.0 312.8 L329.4 316.4 L329.9 315.7 L330.3 311.4 L330.8 312.8 L331.3 310.1 L331.7 312.1 L332.2 309.7 L332.6 313.8 L333.1 308.9 L333.5 306.2 L334.0 302.8 L334.4 303.2 L334.9 300.7 L335.3 301.1 L335.8 304.3 L336.2 308.2 L336.7 308.2 L337.1 302.9 L337.6 295.5 L338.1 293.1 L338.5 293.5 L339.0 295.8 L339.4 293.4 L339.9 292.7 L340.3 291.0 L340.8 290.6 L341.2 289.1 L341.7 285.7 L342.1 286.1 L342.6 291.5 L343.0 295.0 L343.5 293.1 L343.9 287.8 L344.4 283.3 L344.9 285.8 L345.3 287.4 L345.8 292.3 L346.2 290.4 L346.7 292.5 L347.1 288.4 L347.6 286.6 L348.0 280.7 L348.5 282.8 L348.9 282.4 L349.4 281.3 L349.8 281.5 L350.3 278.8 L350.7 278.4 L351.2 274.3 L351.7 270.1 L352.1 268.1 L352.6 266.4 L353.0 270.2 L353.5 269.1 L353.9 269.6 L354.4 269.8 L354.8 270.3 L355.3 268.5 L355.7 270.2 L356.2 272.7 L356.6 274.2 L357.1 270.6 L357.5 269.9 L358.0 267.7 L358.5 272.0 L358.9 274.8 L359.4 276.3 L359.8 271.9 L360.3 268.7 L360.7 271.3 L361.2 274.4 L361.6 274.4 L362.1 276.3 L362.5 279.6 L363.0 279.5 L363.4 272.9 L363.9 269.2 L364.3 271.5 L364.8 274.6 L365.3 275.5 L365.7 272.0 L366.2 276.9 L366.6 281.5 L367.1 282.8 L367.5 279.7 L368.0 274.2 L368.4 273.9 L368.9 273.2 L369.3 276.6 L369.8 279.5 L370.2 276.4 L370.7 275.9 L371.1 276.6 L371.6 276.6 L372.1 271.4 L372.5 268.7 L373.0 273.5 L373.4 278.9 L373.9 277.6 L374.3 279.8 L374.8 278.9 L375.2 285.0 L375.7 281.8 L376.1 285.5 L376.6 287.1 L377.0 289.3 L377.5 283.3 L377.9 279.7 L378.4 279.4 L378.9 282.0 L379.3 281.5 L379.8 281.2 L380.2 281.8 L380.7 283.5 L381.1 284.4 L381.6 285.2 L382.0 282.8 L382.5 282.0 L382.9 284.6 L383.4 289.0 L383.8 292.6 L384.3 289.7 L384.7 291.9 L385.2 290.6 L385.7 294.4 L386.1 282.2 L386.6 280.5 L387.0 276.7 L387.5 283.9 L387.9 286.1 L388.4 289.2 L388.8 291.2 L389.3 293.2 L389.7 290.9 L390.2 293.2 L390.6 293.9 L391.1 292.7 L391.5 292.7 L392.0 290.2 L392.5 294.1 L392.9 299.4 L393.4 298.4 L393.8 293.4 L394.3 286.7 L394.7 286.1 L395.2 291.1 L395.6 296.0 L396.1 296.4 L396.5 294.1 L397.0 289.6 L397.4 290.0 L397.9 291.5 L398.3 291.2 L398.8 291.3 L399.3 288.6 L399.7 284.8 L400.2 280.1 L400.6 282.8 L401.1 290.7 L401.5 296.7 L402.0 296.9 L402.4 294.2 L402.9 293.4 L403.3 293.9 L403.8 288.5 L404.2 290.4 L404.7 287.6 L405.1 290.9 L405.6 283.3 L406.1 281.4 L406.5 280.2 L407.0 281.7 L407.4 279.5 L407.9 272.9 L408.3 266.4 L408.8 254.7 L409.2 242.6 L409.7 227.0 L410.1 213.5 L410.6 188.5 L411.0 163.5 L411.5 131.0 L411.9 106.5 L412.4 84.3 L412.9 73.6 L413.3 61.9 L413.8 73.6 L414.2 85.2 L414.7 102.8 L415.1 134.9 L415.6 165.6 L416.0 198.4 L416.5 217.3 L416.9 241.3 L417.4 258.8 L417.8 271.4 L418.3 271.1 L418.7 274.7 L419.2 276.9 L419.6 286.3 L420.1 290.0 L420.6 295.2 L421.0 292.9 L421.5 298.3 L421.9 298.6 L422.4 301.9 L422.8 297.4 L423.3 295.5 L423.7 293.7 L424.2 301.4 L424.6 307.1 L425.1 312.8 L425.5 310.1 L426.0 307.5 L426.4 306.3 L426.9 310.6 L427.4 314.9 L427.8 316.9 L428.3 311.4 L428.7 309.6 L429.2 306.8 L429.6 302.1 L430.1 302.2 L430.5 306.8 L431.0 317.8 L431.4 317.8 L431.9 316.1 L432.3 310.1 L432.8 312.8 L433.2 317.8 L433.7 317.8 L434.2 316.2 L434.6 307.5 L435.1 310.8 L435.5 306.7 L436.0 309.4 L436.4 303.0 L436.9 307.7 L437.3 306.4 L437.8 308.2 L438.2 310.3 L438.7 314.7 L439.1 318.9 L439.6 314.7 L440.0 317.1 L440.5 315.1 L441.0 316.0 L441.4 315.0 L441.9 318.5 L442.3 322.0 L442.8 321.3 L443.2 321.9 L443.7 316.6 L444.1 316.3 L444.6 312.4 L445.0 316.5 L445.5 315.6 L445.9 313.0 L446.4 306.3 L446.8 306.2 L447.3 314.6 L447.8 325.8 L448.2 328.0 L448.7 327.1 L449.1 323.9 L449.6 319.7 L450.0 316.5 L450.5 317.8 L450.9 320.8 L451.4 325.2 L451.8 323.2 L452.3 324.3 L452.7 319.1 L453.2 319.8 L453.6 322.1 L454.1 323.3 L454.6 322.4 L455.0 318.8 L455.5 318.5 L455.9 321.2 L456.4 319.9 L456.8 322.8 L457.3 322.8 L457.7 326.5 L458.2 320.6 L458.6 318.0 L459.1 310.4 L459.5 314.1 L460.0 312.0 L460.4 319.4 L460.9 321.1 L461.4 320.6 L461.8 312.2 L462.3 313.9 L462.7 317.8 L463.2 321.8 L463.6 320.2 L464.1 323.9 L464.5 332.0 L465.0 334.8 L465.4 334.6 L465.9 330.7 L466.3 322.8 L466.8 318.4 L467.2 315.8 L467.7 323.8 L468.2 327.2 L468.6 323.1 L469.1 318.1 L469.5 318.5 L470.0 324.1 L470.4 323.0 L470.9 324.8 L471.3 327.8 L471.8 331.7 L472.2 328.5 L472.7 326.2 L473.1 324.2 L473.6 323.7 L474.0 323.1 L474.5 325.1 L475.0 323.3 L475.4 326.3 L475.9 320.3 L476.3 322.6 L476.8 318.9 L477.2 322.2 L477.7 323.1 L478.1 324.0 L478.6 329.4 L479.0 323.6 L479.5 319.0 L479.9 306.9 L480.4 307.3 L480.8 314.1 L481.3 323.0 L481.8 323.5 L482.2 314.1 L482.7 314.0 L483.1 311.3 L483.6 314.1 L484.0 306.2 L484.5 305.7 L484.9 309.0 L485.4 312.0 L485.8 317.8 L486.3 316.7 L486.7 320.7 L487.2 318.1 L487.6 318.8 L488.1 314.7 L488.6 317.6 L489.0 317.5 L489.5 321.2 L489.9 318.0 L490.4 317.8 L490.8 318.6 L491.3 328.0 L491.7 324.0 L492.2 329.1 L492.6 321.8 L493.1 326.5 L493.5 325.6 L494.0 327.1 L494.4 331.5 L494.9 331.4 L495.4 330.9 L495.8 322.6 L496.3 317.0 L496.7 320.0 L497.2 321.2 L497.6 323.1 L498.1 319.7 L498.5 322.8 L499.0 323.3 L499.4 326.6 L499.9 328.7 L500.3 330.0 L500.8 329.6 L501.2 330.8 L501.7 332.6 L502.2 327.9 L502.6 325.5 L503.1 321.5 L503.5 322.4 L504.0 322.2 L504.4 314.6 L504.9 319.5 L505.3 319.8 L505.8 330.7 L506.2 322.5 L506.7 319.4 L507.1 323.3 L507.6 332.5 L508.0 334.3 L508.5 326.1 L508.9 320.1 L509.4 325.8 L509.9 329.7 L510.3 336.3 L510.8 331.1 L511.2 324.9 L511.7 323.9 L512.1 323.2 L512.6 328.2 L513.0 322.3 L513.5 324.7 L513.9 329.6 L514.4 332.2 L514.8 334.5 L515.3 328.8 L515.7 328.1 L516.2 325.0 L516.7 322.1 L517.1 318.1 L517.6 319.1 L518.0 322.3 L518.5 327.5 L518.9 329.4 L519.4 328.3 L519.8 325.0 L520.3 323.6 L520.7 326.3 L521.2 328.9 L521.6 330.2 L522.1 330.5 L522.5 332.9 L523.0 332.8 L523.5 331.1 L523.9 335.0 L524.4 337.4 L524.8 337.7 L525.3 336.9 L525.5 327.6"/>
<path stroke="#8000ff" d="M72.2 331.8 L72.4 332.0 L72.9 331.9 L73.3 332.6 L73.8 331.9 L74.2 330.0 L74.7 328.4 L75.1 328.3 L75.6 328.8 L76.0 327.8 L76.5 327.4 L77.0 328.7 L77.4 327.7 L77.9 326.6 L78.3 325.3 L78.8 326.7 L79.2 327.6 L79.7 327.7 L80.1 325.5 L80.6 324.5 L81.0 324.2 L81.5 323.4 L81.9 321.4 L82.4 320.9 L82.8 323.0 L83.3 323.3 L83.8 322.2 L84.2 319.6 L84.7 320.8 L85.1 320.6 L85.6 321.7 L86.0 320.7 L86.5 319.4 L86.9 317.2 L87.4 316.2 L87.8 315.5 L88.3 315.8 L88.7 315.2 L89.2 314.1 L89.6 313.9 L90.1 314.2 L90.6 314.7 L91.0 313.0 L91.5 313.4 L91.9 312.6 L92.4 312.3 L92.8 311.7 L93.3 310.8 L93.7 311.3 L94.2 310.7 L94.6 311.3 L95.1 310.4 L95.5 310.6 L96.0 309.9 L96.4 310.9 L96.9 309.2 L97.4 308.4 L97.8 309.9 L98.3 309.6 L98.7 310.9 L99.2 309.6 L99.6 310.8 L100.1 309.7 L100.5 309.1 L101.0 306.6 L101.4 306.2 L101.9 307.3 L102.3 309.7 L102.8 310.2 L103.2 309.1 L103.7 307.5 L104.2 308.2 L104.6 305.5 L105.1 305.1 L105.5 305.1 L106.0 306.8 L106.4 308.1 L106.9 307.0 L107.3 306.3 L107.8 306.9 L108.2 306.3 L108.7 307.9 L109.1 306.4 L109.6 308.2 L110.0 307.2 L110.5 308.8 L111.0 306.6 L111.4 305.6 L111.9 304.1 L112.3 304.4 L112.8 304.5 L113.2 303.2 L113.7 303.5 L114.1 304.1 L114.6 305.3 L115.0 304.6 L115.5 303.8 L115.9 304.0 L116.4 304.7 L116.8 304.6 L117.3 303.9 L117.8 300.9 L118.2 302.2 L118.7 302.6 L119.1 304.5 L119.6 302.7 L120.0 300.8 L120.5 303.2 L120.9 303.1 L121.4 304.0 L121.8 303.9 L122.3 306.5 L122.7 305.9 L123.2 305.7 L123.6 304.7 L124.1 307.5 L124.6 306.5 L125.0 304.8 L125.5 303.0 L125.9 304.2 L126.4 305.3 L126.8 307.4 L127.3 307.6 L127.7 307.0 L128.2 307.0 L128.6 304.7 L129.1 308.4 L129.5 305.9 L130.0 308.6 L130.4 305.2 L130.9 305.9 L131.4 306.9 L131.8 306.8 L132.3 304.7 L132.7 303.1 L133.2 305.3 L133.6 307.2 L134.1 306.8 L134.5 304.6 L135.0 305.4 L135.4 305.9 L135.9 307.7 L136.3 307.0 L136.8 306.8 L137.2 304.4 L137.7 305.0 L138.2 304.7 L138.6 305.8 L139.1 305.7 L139.5 304.8 L140.0 304.0 L140.4 303.3 L140.9 303.3 L141.3 305.7 L141.8 306.4 L142.2 306.8 L142.7 302.7 L143.1 302.3 L143.6 302.9 L144.0 304.1 L144.5 303.0 L144.9 303.3 L145.4 304.1 L145.9 306.3 L146.3 308.1 L146.8 307.7 L147.2 306.2 L147.7 302.7 L148.1 304.1 L148.6 304.3 L149.0 305.1 L149.5 304.0 L149.9 305.3 L150.4 306.6 L150.8 307.1 L151.3 305.6 L151.7 302.2 L152.2 304.1 L152.7 304.4 L153.1 306.5 L153.6 305.4 L154.0 306.5 L154.5 308.2 L154.9 309.4 L155.4 307.6 L155.8 305.4 L156.3 304.5 L156.7 306.0 L157.2 308.9 L157.6 309.6 L158.1 307.6 L158.5 305.5 L159.0 305.7 L159.5 305.7 L159.9 305.5 L160.4 304.4 L160.8 305.8 L161.3 307.9 L161.7 312.0 L162.2 311.8 L162.6 311.1 L163.1 308.2 L163.5 306.5 L164.0 304.9 L164.4 307.6 L164.9 313.7 L165.3 314.3 L165.8 311.4 L166.3 310.9 L166.7 311.5 L167.2 314.3 L167.6 316.6 L168.1 317.7 L168.5 317.0 L169.0 313.9 L169.4 312.6 L169.9 311.7 L170.3 312.1 L170.8 313.3 L171.2 313.6 L171.7 313.6 L172.1 314.4 L172.6 313.0 L173.1 307.8 L173.5 305.6 L174.0 307.3 L174.4 313.7 L174.9 316.9 L175.3 320.4 L175.8 324.0 L176.2 321.7 L176.7 317.2 L177.1 311.6 L177.6 313.4 L178.0 313.0 L178.5 314.6 L178.9 309.7 L179.4 310.7 L179.9 309.9 L180.3 310.6 L180.8 307.4 L181.2 306.5 L181.7 309.4 L182.1 310.4 L182.6 311.5 L183.0 313.6 L183.5 315.9 L183.9 318.1 L184.4 318.8 L184.8 319.3 L185.3 314.9 L185.7 312.4 L186.2 311.9 L186.7 315.4 L187.1 312.3 L187.6 313.8 L188.0 311.0 L188.5 314.4 L188.9 313.0 L189.4 313.1 L189.8 311.3 L190.3 310.7 L190.7 315.8 L191.2 315.8 L191.6 316.3 L192.1 311.1 L192.5 313.3 L193.0 312.8 L193.5 314.5 L193.9 315.1 L194.4 314.0 L194.8 310.9 L195.3 310.2 L195.7 309.6 L196.2 312.9 L196.6 313.4 L197.1 316.0 L197.5 316.3 L198.0 314.3 L198.4 315.7 L198.9 316.3 L199.3 317.8 L199.8 315.1 L200.3 315.1 L200.7 313.5 L201.2 313.2 L201.6 315.3 L202.1 316.9 L202.5 320.9 L203.0 317.9 L203.4 314.6 L203.9 310.9 L204.3 310.3 L204.8 313.4 L205.2 315.1 L205.7 316.0 L206.1 317.1 L206.6 316.6 L207.1 315.4 L207.5 313.5 L208.0 314.0 L208.4 317.7 L208.9 318.5 L209.3 317.8 L209.8 316.7 L210.2 314.7 L210.7 316.6 L211.1 319.5 L211.6 320.1 L212.0 318.8 L212.5 319.4 L212.9 320.7 L213.4 320.4 L213.9 316.0 L214.3 316.0 L214.8 317.1 L215.2 318.1 L215.7 317.9 L216.1 318.3 L216.6 315.7 L217.0 313.5 L217.5 313.0 L217.9 318.0 L218.4 320.5 L218.8 321.7 L219.3 319.5 L219.7 319.6 L220.2 315.6 L220.7 316.5 L221.1 314.8 L221.6 320.2 L222.0 318.5 L222.5 319.1 L222.9 318.0 L223.4 317.9 L223.8 319.6 L224.3 316.3 L224.7 314.4 L225.2 315.7 L225.6 317.2 L226.1 319.8 L226.5 316.6 L227.0 318.3 L227.5 320.8 L227.9 321.9 L228.4 319.1 L228.8 317.1 L229.3 317.5 L229.7 321.2 L230.2 323.7 L230.6 322.5 L231.1 320.1 L231.5 316.3 L232.0 317.3 L232.4 320.0 L232.9 320.7 L233.3 319.7 L233.8 317.8 L234.3 316.6 L234.7 317.3 L235.2 316.4 L235.6 317.8 L236.1 323.0 L236.5 326.1 L237.0 330.4 L237.4 328.6 L237.9 326.0 L238.3 322.3 L238.8 320.9 L239.2 324.7 L239.7 325.7 L240.1 325.6 L240.6 321.9 L241.0 318.7 L241.5 317.7 L242.0 320.3 L242.4 323.6 L242.9 324.6 L243.3 321.5 L243.8 322.2 L244.2 321.1 L244.7 324.6 L245.1 322.0 L245.6 320.8 L246.0 317.0 L246.5 319.2 L246.9 321.1 L247.4 322.4 L247.8 321.4 L248.3 320.6 L248.8 320.7 L249.2 322.3 L249.7 323.4 L250.1 323.3 L250.6 322.6 L251.0 321.5 L251.5 322.1 L251.9 320.8 L252.4 321.2 L252.8 320.1 L253.3 320.3 L253.7 320.3 L254.2 319.4 L254.6 320.6 L255.1 319.4 L255.6 320.2 L256.0 316.6 L256.5 320.4 L256.9 317.6 L257.4 319.4 L257.8 313.8 L258.3 317.5 L258.7 318.4 L259.2 322.4 L259.6 317.8 L260.1 316.3 L260.5 311.1 L261.0 314.8 L261.4 317.5 L261.9 323.6 L262.4 326.2 L262.8 322.8 L263.3 321.2 L263.7 318.7 L264.2 320.4 L264.6 320.7 L265.1 321.6 L265.5 319.8 L266.0 318.5 L266.4 317.8 L266.9 318.2 L267.3 319.5 L267.8 320.9 L268.2 324.4 L268.7 323.5 L269.2 320.1 L269.6 318.1 L270.1 318.5 L270.5 322.4 L271.0 324.1 L271.4 324.6 L271.9 323.7 L272.3 318.5 L272.8 321.7 L273.2 323.1 L273.7 325.4 L274.1 324.7 L274.6 322.0 L275.0 324.8 L275.5 320.7 L276.0 321.2 L276.4 321.1 L276.9 322.0 L277.3 322.8 L277.8 319.9 L278.2 320.1 L278.7 319.2 L279.1 324.0 L279.6 324.9 L280.0 327.8 L280.5 327.6 L280.9 327.7 L281.4 325.5 L281.8 324.3 L282.3 325.8 L282.8 327.3 L283.2 327.6 L283.7 325.3 L284.1 327.1 L284.6 325.1 L285.0 325.2 L285.5 323.5 L285.9 323.1 L286.4 324.5 L286.8 324.8 L287.3 328.2 L287.7 326.0 L288.2 327.4 L288.6 324.9 L289.1 327.5 L289.6 325.6 L290.0 323.6 L290.5 322.8 L290.9 324.1 L291.4 327.5 L291.8 328.3 L292.3 327.5 L292.7 327.3 L293.2 327.0 L293.6 327.3 L294.1 329.1 L294.5 327.9 L295.0 325.4 L295.4 326.8 L295.9 327.2 L296.4 331.2 L296.8 326.6 L297.3 330.2 L297.7 329.3 L298.2 333.6 L298.6 332.9 L299.1 332.6 L299.5 331.0 L300.0 330.4 L300.4 332.0 L300.9 335.4 L301.3 336.5 L301.8 337.1 L302.2 331.8 L302.7 333.1 L303.2 331.8 L303.6 335.2 L304.1 333.1 L304.5 332.3 L305.0 329.4 L305.4 329.1 L305.9 330.9 L306.3 333.6 L306.8 336.4 L307.2 335.2 L307.7 333.5 L308.1 333.1 L308.6 334.1 L309.0 335.4 L309.5 333.7 L310.0 333.1 L310.4 335.2 L310.9 336.7 L311.3 338.7 L311.8 335.6 L312.2 331.6 L312.7 330.2 L313.1 331.8 L313.6 332.2 L314.0 334.0 L314.5 334.3 L314.9 334.9 L315.4 334.7 L315.8 332.5 L316.3 330.9 L316.8 328.1 L317.2 330.2 L317.7 331.8 L318.1 332.8 L318.6 327.9 L319.0 328.0 L319.5 326.2 L319.9 328.8 L320.4 326.8 L320.8 327.7 L321.3 326.1 L321.7 327.2 L322.2 322.8 L322.6 321.8 L323.1 321.0 L323.6 323.7 L324.0 324.2 L324.5 323.2 L324.9 323.6 L325.4 322.6 L325.8 319.5 L326.3 317.9 L326.7 318.5 L327.2 324.6 L327.6 320.8 L328.1 315.2 L328.5 310.4 L329.0 313.5 L329.4 318.4 L329.9 314.5 L330.3 311.1 L330.8 311.7 L331.3 312.3 L331.7 314.4 L332.2 312.6 L332.6 311.8 L333.1 307.2 L333.5 305.7 L334.0 306.5 L334.4 306.9 L334.9 301.6 L335.3 299.4 L335.8 301.2 L336.2 303.3 L336.7 302.1 L337.1 298.1 L337.6 297.5 L338.1 299.1 L338.5 298.3 L339.0 299.4 L339.4 299.3 L339.9 298.7 L340.3 294.2 L340.8 289.2 L341.2 290.0 L341.7 287.8 L342.1 287.4 L342.6 286.0 L343.0 290.4 L343.5 288.3 L343.9 287.5 L344.4 280.3 L344.9 283.9 L345.3 284.3 L345.8 287.9 L346.2 284.8 L346.7 284.6 L347.1 283.1 L347.6 281.9 L348.0 278.1 L348.5 278.7 L348.9 280.0 L349.4 279.9 L349.8 282.4 L350.3 281.2 L350.7 281.4 L351.2 273.9 L351.7 271.0 L352.1 267.4 L352.6 267.5 L353.0 268.0 L353.5 268.4 L353.9 269.8 L354.4 272.0 L354.8 271.6 L355.3 269.5 L355.7 269.5 L356.2 270.6 L356.6 272.2 L357.1 268.6 L357.5 270.9 L358.0 266.7 L358.5 271.8 L358.9 269.9 L359.4 274.4 L359.8 269.3 L360.3 268.2 L360.7 271.7 L361.2 278.5 L361.6 279.7 L362.1 278.6 L362.5 276.4 L363.0 272.9 L363.4 272.5 L363.9 271.8 L364.3 276.1 L364.8 270.5 L365.3 269.7 L365.7 267.1 L366.2 271.7 L366.6 272.6 L367.1 272.4 L367.5 272.2 L368.0 272.4 L368.4 275.5 L368.9 276.7 L369.3 277.4 L369.8 278.4 L370.2 276.6 L370.7 277.9 L371.1 277.0 L371.6 276.6 L372.1 272.5 L372.5 270.7 L373.0 272.4 L373.4 271.7 L373.9 271.5 L374.3 270.1 L374.8 274.9 L375.2 281.3 L375.7 282.3 L376.1 284.4 L376.6 286.7 L377.0 292.5 L377.5 286.4 L377.9 285.5 L378.4 282.9 L378.9 285.0 L379.3 279.6 L379.8 281.9 L380.2 283.6 L380.7 288.4 L381.1 286.6 L381.6 288.4 L382.0 285.2 L382.5 285.1 L382.9 283.9 L383.4 288.8 L383.8 289.6 L384.3 288.8 L384.7 290.5 L385.2 292.8 L385.7 297.8 L386.1 288.6 L386.6 285.5 L387.0 282.3 L387.5 284.9 L387.9 282.4 L388.4 285.0 L388.8 288.8 L389.3 290.9 L389.7 291.5 L390.2 288.9 L390.6 292.4 L391.1 287.2 L391.5 289.5 L392.0 287.0 L392.5 287.6 L392.9 291.5 L393.4 294.9 L393.8 299.4 L394.3 295.4 L394.7 292.1 L395.2 292.0 L395.6 294.4 L396.1 295.4 L396.5 294.8 L397.0 293.6 L397.4 294.1 L397.9 291.7 L398.3 294.7 L398.8 290.0 L399.3 291.5 L399.7 284.5 L400.2 284.1 L400.6 280.9 L401.1 286.7 L401.5 289.6 L402.0 296.0 L402.4 292.3 L402.9 290.7 L403.3 288.5 L403.8 287.9 L404.2 294.1 L404.7 289.0 L405.1 289.9 L405.6 284.3 L406.1 286.6 L406.5 284.5 L407.0 280.9 L407.4 278.4 L407.9 272.5 L408.3 268.3 L408.8 255.2 L409.2 242.5 L409.7 227.4 L410.1 211.3 L410.6 190.5 L411.0 164.8 L411.5 138.2 L411.9 114.2 L412.4 90.2 L412.9 79.2 L413.3 72.8 L413.8 83.1 L414.2 99.0 L414.7 118.7 L415.1 144.8 L415.6 167.5 L416.0 194.0 L416.5 213.9 L416.9 236.6 L417.4 259.2 L417.8 271.2 L418.3 278.2 L418.7 277.8 L419.2 278.8 L419.6 278.9 L420.1 281.9 L420.6 288.6 L421.0 291.2 L421.5 297.7 L421.9 302.8 L422.4 305.0 L422.8 303.1 L423.3 300.0 L423.7 300.1 L424.2 304.4 L424.6 303.8 L425.1 307.6 L425.5 305.2 L426.0 308.7 L426.4 307.2 L426.9 312.0 L427.4 310.8 L427.8 311.1 L428.3 311.6 L428.7 313.7 L429.2 314.3 L429.6 303.7 L430.1 304.3 L430.5 307.3 L431.0 315.6 L431.4 315.5 L431.9 317.8 L432.3 312.8 L432.8 318.6 L433.2 321.5 L433.7 319.4 L434.2 313.0 L434.6 306.6 L435.1 307.3 L435.5 304.3 L436.0 301.6 L436.4 303.9 L436.9 305.2 L437.3 305.6 L437.8 309.6 L438.2 313.6 L438.7 316.1 L439.1 312.4 L439.6 307.6 L440.0 311.0 L440.5 310.4 L441.0 312.7 L441.4 310.2 L441.9 317.1 L442.3 318.6 L442.8 316.5 L443.2 313.0 L443.7 310.1 L444.1 312.1 L444.6 312.0 L445.0 319.2 L445.5 317.1 L445.9 315.5 L446.4 306.1 L446.8 310.5 L447.3 316.2 L447.8 324.0 L448.2 324.7 L448.7 324.3 L449.1 324.8 L449.6 318.7 L450.0 317.0 L450.5 317.0 L450.9 321.2 L451.4 323.3 L451.8 325.5 L452.3 326.3 L452.7 323.5 L453.2 314.9 L453.6 317.5 L454.1 322.1 L454.6 323.3 L455.0 313.7 L455.5 311.2 L455.9 310.3 L456.4 315.4 L456.8 313.1 L457.3 321.7 L457.7 325.6 L458.2 325.6 L458.6 323.7 L459.1 323.2 L459.5 323.4 L460.0 322.2 L460.4 321.7 L460.9 322.9 L461.4 318.7 L461.8 316.6 L462.3 318.4 L462.7 324.2 L463.2 325.4 L463.6 321.5 L464.1 323.5 L464.5 331.0 L465.0 336.2 L465.4 332.9 L465.9 323.6 L466.3 315.5 L466.8 314.5 L467.2 313.8 L467.7 322.1 L468.2 319.4 L468.6 318.1 L469.1 313.4 L469.5 317.6 L470.0 322.5 L470.4 317.3 L470.9 322.0 L471.3 322.6 L471.8 330.5 L472.2 322.2 L472.7 319.1 L473.1 318.6 L473.6 327.9 L474.0 328.5 L474.5 327.1 L475.0 326.5 L475.4 328.0 L475.9 326.4 L476.3 326.8 L476.8 324.9 L477.2 323.9 L477.7 318.5 L478.1 320.6 L478.6 326.6 L479.0 322.7 L479.5 314.1 L479.9 306.9 L480.4 305.4 L480.8 309.0 L481.3 315.6 L481.8 313.9 L482.2 312.1 L482.7 312.1 L483.1 312.9 L483.6 320.8 L484.0 312.9 L484.5 320.5 L484.9 320.6 L485.4 321.3 L485.8 312.6 L486.3 309.8 L486.7 314.4 L487.2 318.5 L487.6 323.5 L488.1 320.5 L488.6 318.7 L489.0 315.8 L489.5 317.2 L489.9 322.8 L490.4 319.7 L490.8 327.3 L491.3 327.9 L491.7 328.9 L492.2 326.2 L492.6 320.3 L493.1 323.0 L493.5 322.9 L494.0 323.4 L494.4 323.0 L494.9 328.8 L495.4 338.9 L495.8 341.2 L496.3 331.1 L496.7 326.9 L497.2 323.7 L497.6 324.4 L498.1 325.0 L498.5 327.1 L499.0 332.8 L499.4 336.2 L499.9 333.7 L500.3 328.3 L500.8 325.8 L501.2 329.3 L501.7 331.7 L502.2 322.7 L502.6 321.5 L503.1 318.9 L503.5 319.7 L504.0 321.3 L504.4 319.9 L504.9 327.7 L505.3 325.1 L505.8 325.5 L506.2 316.7 L506.7 312.4 L507.1 323.4 L507.6 330.6 L508.0 332.3 L508.5 324.2 L508.9 322.6 L509.4 329.1 L509.9 328.9 L510.3 326.2 L510.8 320.6 L511.2 317.6 L511.7 325.0 L512.1 326.5 L512.6 333.9 L513.0 324.3 L513.5 323.8 L513.9 323.6 L514.4 326.2 L514.8 326.7 L515.3 322.9 L515.7 328.3 L516.2 328.5 L516.7 325.2 L517.1 314.6 L517.6 313.4 L518.0 314.5 L518.5 320.6 L518.9 324.1 L519.4 324.0 L519.8 323.5 L520.3 319.9 L520.7 323.1 L521.2 324.1 L521.6 320.7 L522.1 323.9 L522.5 325.9 L523.0 332.3 L523.5 329.2 L523.9 332.8 L524.4 333.9 L524.8 333.3 L525.3 332.9 L525.5 332.5"/>
</g>
<rect x="72.15" y="12.95" width="453.30" height="364.11" fill="none" stroke="#111111" stroke-width="1.8"/>
<path d="M72.15 336.6h6.2 M72.15 296.1h3.4 M72.15 255.7h6.2 M72.15 215.2h3.4 M72.15 174.8h6.2 M72.15 134.3h3.4 M72.15 93.9h6.2 M72.15 53.4h3.4 M117.5 377.1v-3.3 M162.8 377.1v-6.6 M208.1 377.1v-3.3 M253.5 377.1v-6.6 M298.8 377.1v-3.3 M344.1 377.1v-6.6 M389.5 377.1v-3.3 M434.8 377.1v-6.6 M480.1 377.1v-3.3" stroke="#111111" stroke-width="1.7" fill="none"/>
<g font-size="16" text-anchor="end">
<text x="64.6" y="341.6">0.0</text>
<text x="64.6" y="260.6">0.4</text>
<text x="64.6" y="179.7">0.8</text>
<text x="64.6" y="98.8">1.2</text>
<text x="64.6" y="17.9">1.6</text>
</g>
<g font-size="16" text-anchor="middle">
<text x="72.2" y="397.3">600</text>
<text x="162.8" y="397.3">700</text>
<text x="253.5" y="397.3">800</text>
<text x="344.1" y="397.3">900</text>
<text x="434.8" y="397.3">1000</text>
<text x="525.5" y="397.3">1100</text>
</g>
<text x="299.2" y="425.8" font-size="19" text-anchor="middle">Wavelength (nm)</text>
<text transform="translate(21.8 181.7) rotate(-90)" font-size="19" text-anchor="middle">Absorption Intensity (dB/m)</text>
<g font-size="19">
<path d="M90.5 47.7H133.8" stroke="#000000" stroke-width="1.6"/>
<text x="138.9" y="53.9">before radiation</text>
<path d="M90.5 71.0H133.8" stroke="#ff0000" stroke-width="1.6"/>
<text x="138.9" y="77.2">after radiation</text>
<path d="M90.5 94.3H133.8" stroke="#008000" stroke-width="1.6"/>
<text x="138.9" y="100.5">bleached by 1.5 W &amp; 0.75 h</text>
<path d="M90.5 117.6H133.8" stroke="#0000cc" stroke-width="1.6"/>
<text x="138.9" y="123.8">bleached by 1.5 W &amp; 2 h</text>
<path d="M90.5 140.9H133.8" stroke="#8080c0" stroke-width="1.6"/>
<text x="138.9" y="147.1">bleached by 1.5 W &amp; 2 h</text>
<path d="M90.5 164.2H133.8" stroke="#999999" stroke-width="1.6"/>
<text x="138.9" y="170.4">bleached by 1.5 W &amp; 2.5 h</text>
<path d="M90.5 187.6H133.8" stroke="#ff8080" stroke-width="1.6"/>
<text x="138.9" y="193.7">bleached by 5 W &amp; 2 h</text>
<path d="M90.5 210.9H133.8" stroke="#8000ff" stroke-width="1.6"/>
<text x="138.9" y="217.0">bleached by 5 W &amp; 2 h</text>
</g>
</svg></body></html>
